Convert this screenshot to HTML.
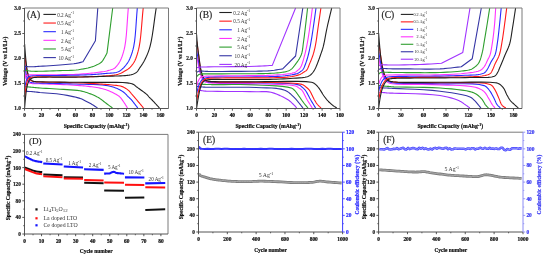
<!DOCTYPE html>
<html><head><meta charset="utf-8"><title>Figure</title>
<style>
html,body{margin:0;padding:0;background:#fff;}
body{width:550px;height:258px;overflow:hidden;}
svg{display:block;filter:blur(0.35px);}
text{font-family:"Liberation Serif","Times New Roman",serif;}
</style></head><body>
<svg width="550" height="258" viewBox="0 0 550 258" font-family="Liberation Serif, serif">
<rect width="550" height="258" fill="#fff"/>
<polyline points="24.60,91.20 25.16,91.23 25.72,91.27 26.28,91.30 26.85,91.33 27.42,91.37 28.00,91.40 28.63,91.43 29.26,91.45 29.89,91.48 30.55,91.51 31.25,91.55 32.00,91.60 33.13,91.71 34.33,91.84 35.60,92.00 36.96,92.16 38.43,92.33 40.00,92.50 42.81,92.74 46.00,92.95 49.45,93.18 53.01,93.44 56.57,93.77 60.00,94.20 63.48,94.74 67.13,95.38 70.76,96.09 74.23,96.84 77.37,97.62 80.00,98.40 81.23,98.85 82.29,99.30 83.25,99.76 84.15,100.23 85.05,100.71 86.00,101.20 87.01,101.71 88.02,102.22 89.03,102.75 90.03,103.29 91.02,103.84 92.00,104.40 92.94,104.97 93.86,105.57 94.77,106.17 95.68,106.78 96.59,107.39 97.50,108.00" fill="none" stroke="#3535a5" stroke-width="1.1" stroke-linejoin="round" />
<polyline points="24.60,86.60 25.16,86.65 25.72,86.70 26.28,86.75 26.85,86.80 27.42,86.85 28.00,86.90 28.63,86.96 29.26,87.02 29.89,87.09 30.55,87.16 31.25,87.23 32.00,87.30 33.13,87.41 34.33,87.52 35.60,87.64 36.96,87.76 38.43,87.88 40.00,88.00 42.81,88.19 46.00,88.38 49.44,88.57 53.00,88.77 56.56,88.98 60.00,89.20 63.44,89.42 67.01,89.62 70.58,89.84 74.02,90.09 77.20,90.40 80.00,90.80 81.56,91.10 82.97,91.44 84.28,91.80 85.52,92.18 86.75,92.58 88.00,93.00 89.22,93.42 90.43,93.87 91.62,94.33 92.79,94.81 93.92,95.30 95.00,95.80 95.90,96.24 96.75,96.68 97.58,97.13 98.39,97.59 99.19,98.08 100.00,98.60 100.84,99.17 101.65,99.77 102.45,100.40 103.27,101.05 104.11,101.72 105.00,102.40 106.16,103.27 107.39,104.19 108.65,105.13 109.94,106.09 111.23,107.05 112.50,108.00" fill="none" stroke="#2e9e2e" stroke-width="1.1" stroke-linejoin="round" />
<polyline points="24.60,70.00 24.73,70.84 24.85,71.68 24.98,72.52 25.11,73.36 25.25,74.18 25.40,75.00 25.55,75.78 25.70,76.57 25.86,77.35 26.04,78.11 26.25,78.83 26.50,79.50 26.74,80.04 27.00,80.56 27.28,81.06 27.59,81.53 27.93,81.94 28.30,82.30 28.67,82.58 29.06,82.80 29.48,82.98 29.93,83.13 30.44,83.27 31.00,83.40 32.15,83.58 33.47,83.68 34.94,83.72 36.54,83.73 38.23,83.75 40.00,83.80 42.88,83.90 46.08,84.01 49.51,84.12 53.04,84.23 56.58,84.36 60.00,84.50 63.41,84.66 66.92,84.82 70.43,85.00 73.84,85.19 77.07,85.39 80.00,85.60 81.87,85.75 83.59,85.90 85.22,86.06 86.80,86.22 88.38,86.40 90.00,86.60 91.68,86.81 93.38,87.02 95.08,87.24 96.76,87.49 98.41,87.78 100.00,88.10 101.40,88.43 102.75,88.78 104.08,89.16 105.39,89.57 106.69,90.02 108.00,90.50 109.38,91.06 110.80,91.67 112.20,92.32 113.56,92.99 114.84,93.65 116.00,94.30 116.77,94.75 117.48,95.17 118.14,95.60 118.77,96.04 119.38,96.54 120.00,97.10 120.72,97.87 121.41,98.72 122.07,99.65 122.73,100.60 123.37,101.56 124.00,102.50 124.61,103.41 125.20,104.32 125.78,105.24 126.35,106.16 126.92,107.08 127.50,108.00" fill="none" stroke="#ff33ff" stroke-width="1.1" stroke-linejoin="round" />
<polyline points="24.60,62.00 24.71,63.00 24.82,63.99 24.93,64.99 25.05,65.98 25.17,66.99 25.30,68.00 25.44,69.08 25.59,70.18 25.74,71.29 25.90,72.39 26.09,73.47 26.30,74.50 26.50,75.40 26.71,76.30 26.93,77.18 27.18,78.01 27.46,78.80 27.80,79.50 28.10,80.01 28.43,80.49 28.79,80.94 29.17,81.34 29.57,81.70 30.00,82.00 30.43,82.23 30.89,82.40 31.36,82.53 31.87,82.63 32.41,82.71 33.00,82.80 33.95,82.91 34.98,82.98 36.09,83.02 37.29,83.04 38.59,83.06 40.00,83.10 42.74,83.18 45.91,83.26 49.36,83.34 52.95,83.43 56.55,83.51 60.00,83.60 63.30,83.69 66.57,83.78 69.84,83.87 73.15,83.96 76.52,84.07 80.00,84.20 84.23,84.32 88.75,84.40 93.36,84.50 97.86,84.67 102.07,84.95 105.80,85.40 108.04,85.80 110.13,86.26 112.08,86.77 113.91,87.33 115.64,87.94 117.30,88.60 118.57,89.17 119.78,89.78 120.93,90.42 122.01,91.09 123.04,91.79 124.00,92.50 124.76,93.13 125.46,93.80 126.11,94.48 126.74,95.17 127.36,95.84 128.00,96.50 128.62,97.09 129.23,97.67 129.84,98.24 130.44,98.81 131.03,99.39 131.60,100.00 132.15,100.64 132.67,101.30 133.18,101.97 133.69,102.65 134.19,103.33 134.70,104.00 135.22,104.67 135.73,105.33 136.25,106.00 136.77,106.67 137.28,107.33 137.80,108.00" fill="none" stroke="#2b2bff" stroke-width="1.1" stroke-linejoin="round" />
<polyline points="24.80,54.00 24.90,54.99 24.99,55.98 25.09,56.97 25.18,57.97 25.29,58.97 25.40,60.00 25.53,61.14 25.67,62.30 25.82,63.48 25.97,64.67 26.13,65.84 26.30,67.00 26.46,68.11 26.62,69.23 26.79,70.34 26.97,71.43 27.17,72.49 27.40,73.50 27.62,74.36 27.85,75.20 28.10,76.02 28.37,76.80 28.67,77.53 29.00,78.20 29.28,78.68 29.58,79.14 29.90,79.56 30.24,79.95 30.60,80.29 31.00,80.60 31.43,80.86 31.88,81.06 32.37,81.23 32.88,81.36 33.42,81.48 34.00,81.60 34.83,81.73 35.71,81.82 36.65,81.88 37.66,81.92 38.77,81.95 40.00,82.00 42.66,82.09 45.80,82.16 49.27,82.22 52.90,82.28 56.53,82.33 60.00,82.40 63.33,82.47 66.67,82.54 70.00,82.61 73.33,82.69 76.67,82.78 80.00,82.90 83.41,83.05 86.92,83.22 90.43,83.41 93.84,83.61 97.06,83.81 100.00,84.00 101.85,84.12 103.55,84.24 105.16,84.35 106.72,84.47 108.32,84.62 110.00,84.80 112.02,85.00 114.14,85.19 116.30,85.41 118.42,85.69 120.41,86.08 122.20,86.60 123.47,87.13 124.67,87.74 125.79,88.41 126.83,89.13 127.80,89.86 128.70,90.60 129.35,91.21 129.94,91.84 130.47,92.48 130.98,93.13 131.48,93.77 132.00,94.40 132.51,94.98 133.03,95.57 133.55,96.15 134.05,96.72 134.54,97.27 135.00,97.80 135.35,98.22 135.68,98.61 136.00,98.99 136.31,99.37 136.64,99.77 137.00,100.20 137.49,100.78 138.01,101.40 138.55,102.04 139.10,102.69 139.66,103.35 140.20,104.00 140.75,104.66 141.30,105.32 141.85,105.99 142.40,106.66 142.95,107.33 143.50,108.00" fill="none" stroke="#ff1a1a" stroke-width="1.1" stroke-linejoin="round" />
<polyline points="24.60,44.00 24.70,45.33 24.79,46.65 24.89,47.97 24.99,49.30 25.09,50.64 25.20,52.00 25.32,53.48 25.44,54.98 25.57,56.50 25.71,58.02 25.85,59.53 26.00,61.00 26.15,62.37 26.29,63.74 26.44,65.09 26.61,66.42 26.79,67.72 27.00,69.00 27.20,70.15 27.42,71.29 27.65,72.42 27.90,73.51 28.18,74.54 28.50,75.50 28.78,76.23 29.08,76.93 29.39,77.59 29.73,78.21 30.10,78.79 30.50,79.30 30.85,79.69 31.22,80.04 31.60,80.35 32.01,80.63 32.48,80.88 33.00,81.10 33.90,81.36 34.91,81.53 36.03,81.63 37.25,81.69 38.58,81.73 40.00,81.80 42.69,81.91 45.75,81.98 49.10,82.02 52.65,82.04 56.31,82.07 60.00,82.10 64.61,82.15 69.43,82.20 74.42,82.25 79.54,82.29 84.75,82.34 90.00,82.40 96.31,82.42 103.21,82.38 110.22,82.35 116.85,82.39 122.64,82.55 127.10,82.90 128.54,83.10 129.79,83.31 130.88,83.54 131.86,83.81 132.75,84.12 133.60,84.50 134.17,84.83 134.67,85.19 135.13,85.58 135.56,85.99 136.01,86.40 136.50,86.80 137.08,87.23 137.66,87.66 138.26,88.09 138.87,88.53 139.52,89.00 140.20,89.50 141.21,90.24 142.35,91.05 143.53,91.90 144.69,92.76 145.77,93.60 146.70,94.40 147.26,94.94 147.75,95.47 148.20,96.00 148.62,96.51 149.05,97.01 149.50,97.50 149.93,97.93 150.35,98.34 150.78,98.73 151.21,99.13 151.65,99.55 152.10,100.00 152.68,100.61 153.29,101.26 153.92,101.94 154.55,102.63 155.18,103.32 155.80,104.00 156.42,104.67 157.03,105.33 157.65,106.00 158.27,106.67 158.88,107.33 159.50,108.00" fill="none" stroke="#222222" stroke-width="1.1" stroke-linejoin="round" />
<polyline points="24.60,66.20 24.99,66.27 25.37,66.34 25.75,66.41 26.14,66.48 26.56,66.55 27.00,66.60 27.65,66.66 28.34,66.71 29.07,66.75 29.84,66.78 30.65,66.80 31.50,66.80 32.72,66.77 34.00,66.71 35.36,66.62 36.80,66.52 38.35,66.41 40.00,66.30 42.87,66.13 46.13,65.93 49.61,65.72 53.19,65.50 56.70,65.25 60.00,65.00 62.85,64.77 65.71,64.53 68.53,64.29 71.22,64.02 73.74,63.73 76.00,63.40 77.34,63.16 78.55,62.90 79.68,62.63 80.78,62.35 81.87,62.07 83.00,61.80 95.40,40.70 97.80,8.00" fill="none" stroke="#3535a5" stroke-width="1.1" stroke-linejoin="round" />
<polyline points="24.60,70.20 24.99,70.27 25.37,70.33 25.75,70.40 26.14,70.46 26.56,70.53 27.00,70.60 27.65,70.70 28.34,70.81 29.07,70.92 29.84,71.03 30.65,71.13 31.50,71.20 32.72,71.27 34.00,71.31 35.36,71.33 36.80,71.33 38.34,71.32 40.00,71.30 42.87,71.24 46.13,71.14 49.61,71.01 53.19,70.87 56.70,70.73 60.00,70.60 62.78,70.52 65.51,70.48 68.19,70.44 70.82,70.36 73.42,70.23 76.00,70.00 78.45,69.69 80.93,69.32 83.38,68.90 85.74,68.42 87.97,67.92 90.00,67.40 91.34,67.01 92.59,66.61 93.77,66.18 94.89,65.74 95.96,65.28 97.00,64.80 97.86,64.38 98.70,63.95 99.50,63.51 100.26,63.04 100.96,62.54 101.60,62.00 102.09,61.48 102.51,60.94 102.89,60.36 103.25,59.77 103.61,59.15 104.00,58.50 104.49,57.67 104.99,56.80 105.49,55.88 106.00,54.95 106.50,54.01 107.00,53.10 112.70,8.00" fill="none" stroke="#2e9e2e" stroke-width="1.1" stroke-linejoin="round" />
<polyline points="24.60,79.00 24.74,78.57 24.87,78.13 24.99,77.68 25.13,77.25 25.30,76.85 25.50,76.50 25.70,76.23 25.92,75.97 26.16,75.74 26.41,75.53 26.69,75.35 27.00,75.20 27.41,75.06 27.84,74.99 28.31,74.95 28.82,74.93 29.38,74.92 30.00,74.90 31.29,74.85 32.77,74.82 34.42,74.81 36.20,74.81 38.07,74.81 40.00,74.80 42.96,74.78 46.24,74.77 49.71,74.76 53.24,74.75 56.72,74.73 60.00,74.70 62.78,74.67 65.51,74.65 68.18,74.62 70.81,74.57 73.42,74.50 76.00,74.40 78.42,74.27 80.83,74.10 83.21,73.92 85.54,73.72 87.82,73.51 90.00,73.30 91.78,73.12 93.50,72.94 95.18,72.75 96.82,72.55 98.42,72.33 100.00,72.10 101.40,71.89 102.77,71.67 104.12,71.45 105.44,71.20 106.74,70.92 108.00,70.60 109.17,70.28 110.34,69.94 111.49,69.57 112.59,69.17 113.60,68.72 114.50,68.20 115.12,67.74 115.66,67.25 116.14,66.73 116.60,66.18 117.04,65.60 117.50,65.00 118.03,64.31 118.54,63.60 119.04,62.86 119.53,62.06 120.02,61.18 120.50,60.20 121.27,58.44 122.04,56.48 122.79,54.32 123.51,51.95 124.19,49.38 124.80,46.60 125.64,41.33 126.30,35.23 126.83,28.56 127.30,21.61 127.77,14.67 128.30,8.00" fill="none" stroke="#ff33ff" stroke-width="1.1" stroke-linejoin="round" />
<polyline points="24.60,90.00 24.74,88.99 24.88,87.97 25.02,86.94 25.16,85.93 25.32,84.95 25.50,84.00 25.66,83.19 25.83,82.39 26.01,81.61 26.20,80.86 26.43,80.15 26.70,79.50 26.94,79.01 27.20,78.53 27.48,78.09 27.79,77.68 28.12,77.32 28.50,77.00 28.91,76.74 29.35,76.53 29.82,76.37 30.33,76.23 30.89,76.12 31.50,76.00 32.62,75.84 33.87,75.74 35.25,75.69 36.74,75.66 38.32,75.64 40.00,75.60 42.87,75.54 46.12,75.50 49.61,75.47 53.19,75.45 56.70,75.43 60.00,75.40 62.78,75.37 65.51,75.35 68.18,75.32 70.81,75.29 73.42,75.25 76.00,75.20 78.41,75.14 80.82,75.07 83.21,74.99 85.54,74.90 87.81,74.81 90.00,74.70 91.78,74.60 93.50,74.49 95.18,74.37 96.81,74.25 98.42,74.12 100.00,74.00 101.39,73.89 102.73,73.78 104.06,73.66 105.37,73.54 106.68,73.42 108.00,73.30 109.37,73.19 110.78,73.11 112.18,73.02 113.55,72.90 114.84,72.74 116.00,72.50 116.77,72.28 117.48,72.04 118.15,71.77 118.79,71.47 119.40,71.15 120.00,70.80 120.55,70.44 121.06,70.05 121.56,69.64 122.04,69.21 122.52,68.76 123.00,68.30 123.52,67.80 124.02,67.28 124.53,66.75 125.03,66.19 125.52,65.61 126.00,65.00 126.54,64.30 127.06,63.59 127.58,62.85 128.09,62.06 128.60,61.18 129.10,60.20 129.91,58.45 130.73,56.49 131.54,54.33 132.32,51.96 133.04,49.38 133.70,46.60 134.58,41.34 135.26,35.23 135.81,28.56 136.28,21.62 136.76,14.67 137.30,8.00" fill="none" stroke="#2b2bff" stroke-width="1.1" stroke-linejoin="round" />
<polyline points="24.60,100.00 24.71,98.66 24.82,97.31 24.93,95.97 25.04,94.63 25.16,93.30 25.30,92.00 25.44,90.79 25.58,89.58 25.74,88.39 25.90,87.22 26.09,86.09 26.30,85.00 26.49,84.09 26.67,83.18 26.87,82.29 27.10,81.45 27.37,80.68 27.70,80.00 27.99,79.53 28.30,79.11 28.63,78.72 29.00,78.37 29.38,78.06 29.80,77.80 30.26,77.58 30.74,77.43 31.25,77.32 31.80,77.24 32.38,77.17 33.00,77.10 33.97,77.01 35.00,76.95 36.10,76.93 37.30,76.92 38.59,76.91 40.00,76.90 42.77,76.89 45.99,76.90 49.50,76.92 53.12,76.95 56.68,76.98 60.00,77.00 62.78,77.01 65.51,77.02 68.18,77.03 70.81,77.03 73.42,77.02 76.00,77.00 78.41,76.97 80.82,76.93 83.21,76.88 85.54,76.82 87.81,76.76 90.00,76.70 91.76,76.64 93.46,76.59 95.11,76.53 96.73,76.46 98.35,76.39 100.00,76.30 101.70,76.20 103.43,76.10 105.16,75.99 106.86,75.87 108.48,75.74 110.00,75.60 111.10,75.49 112.16,75.38 113.18,75.26 114.15,75.13 115.09,74.98 116.00,74.80 116.72,74.64 117.41,74.47 118.07,74.28 118.71,74.08 119.35,73.85 120.00,73.60 120.67,73.31 121.33,72.99 121.99,72.64 122.64,72.28 123.31,71.90 124.00,71.50 124.84,71.03 125.72,70.53 126.61,70.01 127.49,69.47 128.33,68.90 129.10,68.30 129.75,67.72 130.35,67.11 130.93,66.48 131.47,65.84 131.99,65.17 132.50,64.50 132.98,63.85 133.43,63.21 133.86,62.56 134.27,61.86 134.68,61.09 135.10,60.20 135.82,58.48 136.54,56.53 137.25,54.36 137.94,51.97 138.59,49.38 139.20,46.60 140.07,41.33 140.79,35.22 141.42,28.56 141.99,21.61 142.57,14.67 143.20,8.00" fill="none" stroke="#ff1a1a" stroke-width="1.1" stroke-linejoin="round" />
<polyline points="24.60,108.00 24.71,106.67 24.82,105.35 24.94,104.03 25.05,102.70 25.17,101.36 25.30,100.00 25.44,98.52 25.59,96.99 25.75,95.46 25.91,93.93 26.09,92.44 26.30,91.00 26.49,89.76 26.68,88.53 26.89,87.32 27.12,86.16 27.39,85.04 27.70,84.00 27.98,83.18 28.28,82.39 28.59,81.63 28.95,80.92 29.35,80.27 29.80,79.70 30.24,79.27 30.71,78.89 31.22,78.56 31.77,78.28 32.36,78.02 33.00,77.80 33.95,77.56 34.98,77.41 36.09,77.33 37.29,77.28 38.59,77.25 40.00,77.20 42.76,77.12 45.99,77.08 49.50,77.07 53.12,77.08 56.68,77.10 60.00,77.10 62.78,77.10 65.51,77.11 68.18,77.12 70.81,77.12 73.42,77.12 76.00,77.10 78.36,77.07 80.64,77.03 82.90,76.98 85.18,76.92 87.53,76.86 90.00,76.80 93.16,76.72 96.51,76.62 99.96,76.52 103.41,76.42 106.79,76.31 110.00,76.20 112.70,76.11 115.41,76.04 118.06,75.96 120.58,75.86 122.92,75.75 125.00,75.60 126.18,75.50 127.27,75.39 128.28,75.28 129.23,75.15 130.13,74.99 131.00,74.80 131.65,74.62 132.27,74.43 132.86,74.23 133.43,74.00 133.97,73.76 134.50,73.50 134.96,73.26 135.39,73.01 135.81,72.75 136.22,72.47 136.61,72.15 137.00,71.80 137.44,71.33 137.84,70.81 138.24,70.25 138.63,69.64 139.05,68.99 139.50,68.30 140.26,67.18 141.10,65.95 141.99,64.63 142.89,63.22 143.77,61.74 144.60,60.20 145.57,58.25 146.52,56.24 147.44,54.12 148.33,51.84 149.18,49.35 150.00,46.60 151.22,41.34 152.31,35.24 153.30,28.57 154.25,21.62 155.20,14.67 156.20,8.00" fill="none" stroke="#222222" stroke-width="1.1" stroke-linejoin="round" />
<line x1="24.50" y1="8.00" x2="168.50" y2="8.00" stroke="#7a7a7a" stroke-width="1"/>
<line x1="168.50" y1="8.00" x2="168.50" y2="108.50" stroke="#7a7a7a" stroke-width="1"/>
<line x1="24.50" y1="108.50" x2="168.50" y2="108.50" stroke="#555" stroke-width="1"/>
<line x1="24.50" y1="8.00" x2="24.50" y2="108.50" stroke="#555" stroke-width="1"/>
<line x1="24.50" y1="108.50" x2="24.50" y2="110.70" stroke="#444" stroke-width="0.9"/>
<line x1="33.00" y1="108.50" x2="33.00" y2="109.80" stroke="#444" stroke-width="0.8"/>
<text x="24.50" y="116.90" font-size="5.4" text-anchor="middle" font-weight="bold" fill="#111" stroke="#111" stroke-width="0.22">0</text>
<line x1="41.50" y1="108.50" x2="41.50" y2="110.70" stroke="#444" stroke-width="0.9"/>
<line x1="50.00" y1="108.50" x2="50.00" y2="109.80" stroke="#444" stroke-width="0.8"/>
<text x="41.50" y="116.90" font-size="5.4" text-anchor="middle" font-weight="bold" fill="#111" stroke="#111" stroke-width="0.22">20</text>
<line x1="58.50" y1="108.50" x2="58.50" y2="110.70" stroke="#444" stroke-width="0.9"/>
<line x1="67.00" y1="108.50" x2="67.00" y2="109.80" stroke="#444" stroke-width="0.8"/>
<text x="58.50" y="116.90" font-size="5.4" text-anchor="middle" font-weight="bold" fill="#111" stroke="#111" stroke-width="0.22">40</text>
<line x1="75.50" y1="108.50" x2="75.50" y2="110.70" stroke="#444" stroke-width="0.9"/>
<line x1="84.00" y1="108.50" x2="84.00" y2="109.80" stroke="#444" stroke-width="0.8"/>
<text x="75.50" y="116.90" font-size="5.4" text-anchor="middle" font-weight="bold" fill="#111" stroke="#111" stroke-width="0.22">60</text>
<line x1="92.50" y1="108.50" x2="92.50" y2="110.70" stroke="#444" stroke-width="0.9"/>
<line x1="101.00" y1="108.50" x2="101.00" y2="109.80" stroke="#444" stroke-width="0.8"/>
<text x="92.50" y="116.90" font-size="5.4" text-anchor="middle" font-weight="bold" fill="#111" stroke="#111" stroke-width="0.22">80</text>
<line x1="109.50" y1="108.50" x2="109.50" y2="110.70" stroke="#444" stroke-width="0.9"/>
<line x1="118.00" y1="108.50" x2="118.00" y2="109.80" stroke="#444" stroke-width="0.8"/>
<text x="109.50" y="116.90" font-size="5.4" text-anchor="middle" font-weight="bold" fill="#111" stroke="#111" stroke-width="0.22">100</text>
<line x1="126.50" y1="108.50" x2="126.50" y2="110.70" stroke="#444" stroke-width="0.9"/>
<line x1="135.00" y1="108.50" x2="135.00" y2="109.80" stroke="#444" stroke-width="0.8"/>
<text x="126.50" y="116.90" font-size="5.4" text-anchor="middle" font-weight="bold" fill="#111" stroke="#111" stroke-width="0.22">120</text>
<line x1="143.50" y1="108.50" x2="143.50" y2="110.70" stroke="#444" stroke-width="0.9"/>
<line x1="152.00" y1="108.50" x2="152.00" y2="109.80" stroke="#444" stroke-width="0.8"/>
<text x="143.50" y="116.90" font-size="5.4" text-anchor="middle" font-weight="bold" fill="#111" stroke="#111" stroke-width="0.22">140</text>
<line x1="160.50" y1="108.50" x2="160.50" y2="110.70" stroke="#444" stroke-width="0.9"/>
<text x="160.50" y="116.90" font-size="5.4" text-anchor="middle" font-weight="bold" fill="#111" stroke="#111" stroke-width="0.22">160</text>
<line x1="22.30" y1="108.50" x2="24.50" y2="108.50" stroke="#444" stroke-width="0.9"/>
<line x1="23.20" y1="96.00" x2="24.50" y2="96.00" stroke="#444" stroke-width="0.8"/>
<text x="21.00" y="110.40" font-size="5.4" text-anchor="end" font-weight="bold" fill="#222" stroke="#222" stroke-width="0.22">1.0</text>
<line x1="22.30" y1="83.50" x2="24.50" y2="83.50" stroke="#444" stroke-width="0.9"/>
<line x1="23.20" y1="71.00" x2="24.50" y2="71.00" stroke="#444" stroke-width="0.8"/>
<text x="21.00" y="85.40" font-size="5.4" text-anchor="end" font-weight="bold" fill="#222" stroke="#222" stroke-width="0.22">1.5</text>
<line x1="22.30" y1="58.50" x2="24.50" y2="58.50" stroke="#444" stroke-width="0.9"/>
<line x1="23.20" y1="46.00" x2="24.50" y2="46.00" stroke="#444" stroke-width="0.8"/>
<text x="21.00" y="60.40" font-size="5.4" text-anchor="end" font-weight="bold" fill="#222" stroke="#222" stroke-width="0.22">2.0</text>
<line x1="22.30" y1="33.50" x2="24.50" y2="33.50" stroke="#444" stroke-width="0.9"/>
<line x1="23.20" y1="21.00" x2="24.50" y2="21.00" stroke="#444" stroke-width="0.8"/>
<text x="21.00" y="35.40" font-size="5.4" text-anchor="end" font-weight="bold" fill="#222" stroke="#222" stroke-width="0.22">2.5</text>
<line x1="22.30" y1="8.50" x2="24.50" y2="8.50" stroke="#444" stroke-width="0.9"/>
<text x="21.00" y="10.40" font-size="5.4" text-anchor="end" font-weight="bold" fill="#222" stroke="#222" stroke-width="0.22">3.0</text>
<text x="26.90" y="17.60" font-size="9.5" text-anchor="start" font-weight="normal" fill="#1a1a1a" stroke="#1a1a1a" stroke-width="0.15">(A)</text>
<line x1="43.40" y1="14.40" x2="55.90" y2="14.40" stroke="#222222" stroke-width="1.1"/>
<text x="74.00" y="16.60" font-size="5.2" text-anchor="end" fill="#333">0.2 Ag<tspan font-size="3.64" dy="-2.30">-1</tspan></text>
<line x1="43.40" y1="23.04" x2="55.90" y2="23.04" stroke="#ff1a1a" stroke-width="1.1"/>
<text x="74.00" y="25.24" font-size="5.2" text-anchor="end" fill="#333">0.5 Ag<tspan font-size="3.64" dy="-2.30">-1</tspan></text>
<line x1="43.40" y1="31.68" x2="55.90" y2="31.68" stroke="#2b2bff" stroke-width="1.1"/>
<text x="74.00" y="33.88" font-size="5.2" text-anchor="end" fill="#333">1 Ag<tspan font-size="3.64" dy="-2.30">-1</tspan></text>
<line x1="43.40" y1="40.32" x2="55.90" y2="40.32" stroke="#ff33ff" stroke-width="1.1"/>
<text x="74.00" y="42.52" font-size="5.2" text-anchor="end" fill="#333">2 Ag<tspan font-size="3.64" dy="-2.30">-1</tspan></text>
<line x1="43.40" y1="48.96" x2="55.90" y2="48.96" stroke="#2e9e2e" stroke-width="1.1"/>
<text x="74.00" y="51.16" font-size="5.2" text-anchor="end" fill="#333">5 Ag<tspan font-size="3.64" dy="-2.30">-1</tspan></text>
<line x1="43.40" y1="57.60" x2="55.90" y2="57.60" stroke="#3535a5" stroke-width="1.1"/>
<text x="74.00" y="59.80" font-size="5.2" text-anchor="end" fill="#333">10 Ag<tspan font-size="3.64" dy="-2.30">-1</tspan></text>
<text x="96.50" y="128.1" font-size="5.7" text-anchor="middle" font-weight="bold" fill="#111" stroke="#111" stroke-width="0.2">Specific Capacity (mAhg<tspan font-size="4.0" dy="-2">-1</tspan><tspan dy="2">)</tspan></text>
<text transform="translate(7.40,61.2) rotate(-90)" font-size="5.6" text-anchor="middle" font-weight="bold" fill="#111" stroke="#111" stroke-width="0.2">Voltage (V vs Li/Li<tspan font-size="4" dy="-1.8">+</tspan><tspan dy="1.8">)</tspan></text>
<polyline points="196.80,89.80 197.42,89.90 198.04,90.00 198.66,90.10 199.27,90.20 199.89,90.30 200.50,90.40 201.07,90.50 201.62,90.61 202.16,90.72 202.73,90.82 203.33,90.92 204.00,91.00 205.07,91.09 206.18,91.16 207.39,91.20 208.73,91.23 210.26,91.26 212.00,91.30 217.55,91.38 224.90,91.44 233.23,91.48 241.74,91.52 249.60,91.59 256.00,91.70 258.95,91.72 261.57,91.66 263.98,91.62 266.27,91.66 268.58,91.86 271.00,92.30 273.94,93.14 277.04,94.29 280.15,95.63 283.12,97.07 285.79,98.50 288.00,99.80 289.06,100.51 289.98,101.21 290.79,101.90 291.54,102.60 292.26,103.29 293.00,104.00 293.68,104.66 294.32,105.32 294.95,105.99 295.56,106.66 296.18,107.33 296.80,108.00" fill="none" stroke="#a033ff" stroke-width="1.1" stroke-linejoin="round" />
<polyline points="196.80,86.40 197.42,86.47 198.05,86.54 198.67,86.60 199.30,86.67 199.91,86.74 200.50,86.80 201.00,86.85 201.47,86.91 201.92,86.96 202.40,87.01 202.91,87.06 203.50,87.10 204.59,87.16 205.77,87.20 207.06,87.23 208.52,87.25 210.15,87.28 212.00,87.30 217.46,87.31 224.48,87.26 232.44,87.21 240.76,87.19 248.81,87.27 256.00,87.50 261.35,87.69 266.69,87.83 271.85,88.04 276.69,88.42 281.05,89.10 284.80,90.20 286.86,91.19 288.68,92.39 290.30,93.70 291.76,95.08 293.12,96.43 294.40,97.70 295.31,98.60 296.12,99.49 296.87,100.38 297.58,101.25 298.28,102.12 299.00,103.00 299.69,103.84 300.36,104.67 301.02,105.50 301.68,106.34 302.34,107.17 303.00,108.00" fill="none" stroke="#3535a5" stroke-width="1.1" stroke-linejoin="round" />
<polyline points="196.80,83.60 197.41,83.70 198.01,83.81 198.61,83.92 199.22,84.03 199.85,84.12 200.50,84.20 201.28,84.26 202.08,84.31 202.91,84.33 203.76,84.35 204.62,84.37 205.50,84.40 206.47,84.44 207.39,84.47 208.34,84.50 209.37,84.54 210.57,84.57 212.00,84.60 217.13,84.63 223.95,84.60 231.87,84.56 240.25,84.56 248.50,84.66 256.00,84.90 262.53,85.19 269.41,85.51 276.18,85.91 282.38,86.42 287.54,87.10 291.20,88.00 292.05,88.36 292.72,88.72 293.25,89.11 293.73,89.53 294.19,89.99 294.70,90.50 295.36,91.21 296.01,92.00 296.65,92.86 297.27,93.75 297.89,94.64 298.50,95.50 299.10,96.34 299.69,97.18 300.28,98.03 300.86,98.88 301.43,99.70 302.00,100.50 302.51,101.20 303.01,101.88 303.50,102.55 304.00,103.21 304.49,103.86 305.00,104.50 305.49,105.10 305.99,105.69 306.49,106.27 307.00,106.85 307.50,107.42 308.00,108.00" fill="none" stroke="#2e9e2e" stroke-width="1.1" stroke-linejoin="round" />
<polyline points="196.80,57.00 197.03,58.25 197.26,59.50 197.49,60.75 197.72,62.00 197.96,63.25 198.20,64.50 198.45,65.76 198.70,67.04 198.95,68.31 199.21,69.57 199.49,70.80 199.80,72.00 200.09,73.07 200.38,74.13 200.69,75.17 201.02,76.17 201.39,77.12 201.80,78.00 202.18,78.71 202.59,79.39 203.01,80.04 203.47,80.63 203.97,81.16 204.50,81.60 205.01,81.91 205.54,82.14 206.11,82.32 206.70,82.45 207.33,82.58 208.00,82.70 208.95,82.85 209.93,82.96 210.98,83.03 212.14,83.09 213.47,83.14 215.00,83.20 219.87,83.33 226.17,83.40 233.42,83.45 241.13,83.51 248.82,83.61 256.00,83.80 263.13,84.00 270.83,84.19 278.50,84.42 285.57,84.75 291.43,85.26 295.50,86.00 296.34,86.29 297.01,86.60 297.55,86.93 298.02,87.27 298.49,87.63 299.00,88.00 299.54,88.36 300.06,88.71 300.58,89.07 301.08,89.47 301.59,89.94 302.10,90.50 302.92,91.65 303.72,93.06 304.53,94.64 305.34,96.30 306.16,97.95 307.00,99.50 307.86,100.94 308.73,102.36 309.62,103.77 310.52,105.18 311.41,106.59 312.30,108.00" fill="none" stroke="#ff33ff" stroke-width="1.1" stroke-linejoin="round" />
<polyline points="196.80,51.00 197.05,52.50 197.29,53.99 197.54,55.49 197.79,56.98 198.04,58.49 198.30,60.00 198.57,61.59 198.83,63.21 199.10,64.84 199.38,66.45 199.68,68.01 200.00,69.50 200.29,70.73 200.58,71.94 200.89,73.11 201.23,74.24 201.59,75.31 202.00,76.30 202.36,77.06 202.72,77.78 203.11,78.47 203.54,79.11 203.99,79.69 204.50,80.20 205.00,80.60 205.53,80.94 206.09,81.23 206.68,81.48 207.32,81.70 208.00,81.90 208.95,82.11 209.92,82.25 210.97,82.34 212.14,82.39 213.46,82.44 215.00,82.50 219.85,82.62 226.11,82.66 233.32,82.64 241.01,82.63 248.73,82.67 256.00,82.80 263.61,82.94 271.91,83.04 280.23,83.19 287.91,83.48 294.29,84.02 298.70,84.90 299.63,85.27 300.37,85.68 300.96,86.11 301.47,86.56 301.96,87.02 302.50,87.50 303.03,87.95 303.54,88.38 304.03,88.83 304.51,89.32 305.00,89.87 305.50,90.50 306.31,91.70 307.13,93.12 307.96,94.69 308.80,96.33 309.65,97.96 310.50,99.50 311.34,100.94 312.19,102.36 313.04,103.77 313.89,105.18 314.75,106.59 315.60,108.00" fill="none" stroke="#2b2bff" stroke-width="1.1" stroke-linejoin="round" />
<polyline points="196.90,41.50 197.01,42.48 197.12,43.44 197.23,44.40 197.34,45.38 197.47,46.40 197.60,47.50 197.80,49.07 198.02,50.76 198.26,52.52 198.51,54.34 198.76,56.18 199.00,58.00 199.25,60.00 199.48,62.08 199.72,64.18 199.97,66.25 200.26,68.21 200.60,70.00 200.88,71.25 201.17,72.45 201.48,73.59 201.82,74.66 202.19,75.67 202.60,76.60 202.94,77.28 203.30,77.91 203.67,78.51 204.08,79.06 204.52,79.56 205.00,80.00 205.50,80.36 206.03,80.66 206.60,80.92 207.20,81.14 207.83,81.33 208.50,81.50 209.39,81.68 210.30,81.80 211.26,81.87 212.34,81.91 213.57,81.95 215.00,82.00 219.76,82.11 225.97,82.14 233.15,82.13 240.86,82.13 248.63,82.17 256.00,82.30 264.08,82.44 272.97,82.53 281.93,82.68 290.23,82.97 297.13,83.51 301.90,84.40 302.90,84.77 303.68,85.17 304.32,85.60 304.88,86.05 305.42,86.52 306.00,87.00 306.61,87.48 307.21,87.97 307.80,88.49 308.36,89.02 308.90,89.59 309.40,90.20 309.90,90.92 310.35,91.69 310.78,92.50 311.18,93.34 311.59,94.18 312.00,95.00 312.42,95.83 312.82,96.67 313.22,97.52 313.63,98.36 314.05,99.19 314.50,100.00 314.96,100.78 315.44,101.56 315.92,102.33 316.43,103.08 316.95,103.80 317.50,104.50 318.05,105.13 318.62,105.72 319.21,106.30 319.81,106.86 320.41,107.43 321.00,108.00" fill="none" stroke="#ff1a1a" stroke-width="1.1" stroke-linejoin="round" />
<polyline points="196.60,34.50 196.72,36.18 196.84,37.82 196.95,39.47 197.08,41.14 197.22,42.88 197.40,44.70 197.67,47.14 197.98,49.76 198.33,52.47 198.69,55.18 199.05,57.79 199.40,60.20 199.66,61.99 199.90,63.71 200.14,65.37 200.40,66.98 200.68,68.52 201.00,70.00 201.29,71.20 201.58,72.37 201.90,73.50 202.24,74.57 202.60,75.58 203.00,76.50 203.32,77.16 203.64,77.78 203.98,78.36 204.35,78.90 204.75,79.38 205.20,79.80 205.67,80.13 206.17,80.39 206.70,80.61 207.26,80.79 207.86,80.95 208.50,81.10 209.38,81.27 210.29,81.38 211.25,81.46 212.33,81.51 213.56,81.55 215.00,81.60 219.72,81.71 225.82,81.74 232.91,81.73 240.57,81.70 248.40,81.68 256.00,81.70 265.54,81.66 276.36,81.52 287.40,81.39 297.64,81.40 306.02,81.66 311.50,82.30 312.36,82.53 313.04,82.78 313.58,83.04 314.05,83.32 314.51,83.64 315.00,84.00 315.55,84.43 316.07,84.90 316.58,85.41 317.07,85.94 317.55,86.47 318.00,87.00 318.40,87.48 318.76,87.94 319.11,88.42 319.45,88.91 319.81,89.43 320.20,90.00 320.77,90.88 321.38,91.86 322.00,92.90 322.65,93.96 323.32,95.00 324.00,96.00 324.70,96.96 325.43,97.92 326.18,98.86 326.94,99.77 327.72,100.66 328.50,101.50 329.23,102.24 329.98,102.95 330.74,103.64 331.50,104.29 332.25,104.91 333.00,105.50 333.64,105.97 334.27,106.40 334.91,106.81 335.54,107.20 336.17,107.59 336.80,108.00" fill="none" stroke="#222222" stroke-width="1.1" stroke-linejoin="round" />
<polyline points="196.80,67.80 197.15,67.70 197.48,67.59 197.80,67.48 198.15,67.38 198.54,67.28 199.00,67.20 200.06,67.08 201.28,67.01 202.67,66.97 204.24,66.95 206.02,66.93 208.00,66.90 214.09,66.81 222.12,66.73 231.21,66.67 240.47,66.58 249.03,66.47 256.00,66.30 259.22,66.17 262.07,66.03 264.69,65.88 267.19,65.72 269.68,65.55 272.30,65.40 295.60,8.00" fill="none" stroke="#a033ff" stroke-width="1.1" stroke-linejoin="round" />
<polyline points="196.80,72.20 197.15,72.02 197.47,71.84 197.79,71.65 198.14,71.48 198.54,71.32 199.00,71.20 200.06,71.07 201.27,71.07 202.66,71.14 204.24,71.24 206.02,71.34 208.00,71.40 214.13,71.43 222.25,71.44 231.42,71.42 240.72,71.37 249.22,71.30 256.00,71.20 258.83,71.15 261.31,71.11 263.57,71.06 265.70,70.98 267.81,70.87 270.00,70.70 272.16,70.47 274.28,70.20 276.39,69.88 278.49,69.55 280.59,69.21 282.70,68.90 295.60,56.00 302.80,8.00" fill="none" stroke="#3535a5" stroke-width="1.1" stroke-linejoin="round" />
<polyline points="196.80,76.50 197.08,76.21 197.34,75.90 197.61,75.59 197.88,75.30 198.18,75.03 198.50,74.80 198.86,74.60 199.23,74.44 199.62,74.30 200.04,74.19 200.50,74.09 201.00,74.00 201.88,73.90 202.83,73.86 203.88,73.86 205.07,73.88 206.43,73.90 208.00,73.90 213.85,73.87 221.88,73.84 231.11,73.82 240.53,73.80 249.16,73.76 256.00,73.70 258.84,73.67 261.35,73.64 263.63,73.61 265.77,73.56 267.86,73.50 270.00,73.40 271.94,73.30 273.86,73.18 275.74,73.05 277.57,72.90 279.33,72.72 281.00,72.50 282.29,72.31 283.56,72.10 284.77,71.88 285.93,71.62 287.01,71.34 288.00,71.00 288.68,70.72 289.31,70.43 289.89,70.11 290.45,69.77 290.98,69.40 291.50,69.00 291.99,68.58 292.43,68.16 292.85,67.70 293.27,67.20 293.71,66.64 294.20,66.00 295.26,64.61 296.50,62.94 297.82,61.07 299.11,59.08 300.27,57.03 301.20,55.00 301.86,52.96 302.34,50.86 302.68,48.71 302.94,46.51 303.20,44.27 303.50,42.00 303.87,39.44 304.21,36.83 304.54,34.17 304.86,31.47 305.17,28.74 305.50,26.00 305.85,23.06 306.20,20.08 306.55,17.07 306.90,14.04 307.25,11.01 307.60,8.00" fill="none" stroke="#2e9e2e" stroke-width="1.1" stroke-linejoin="round" />
<polyline points="196.80,86.00 197.04,85.15 197.27,84.28 197.49,83.42 197.73,82.57 198.00,81.76 198.30,81.00 198.58,80.39 198.88,79.79 199.19,79.22 199.53,78.69 199.90,78.22 200.30,77.80 200.69,77.49 201.10,77.23 201.53,77.00 201.99,76.82 202.48,76.65 203.00,76.50 203.68,76.35 204.35,76.26 205.07,76.20 205.89,76.17 206.85,76.14 208.00,76.10 213.49,75.95 221.42,75.85 230.72,75.78 240.30,75.73 249.09,75.67 256.00,75.60 258.81,75.56 261.27,75.53 263.49,75.50 265.61,75.46 267.74,75.39 270.00,75.30 272.51,75.18 275.10,75.04 277.69,74.87 280.25,74.68 282.70,74.46 285.00,74.20 286.76,73.98 288.50,73.76 290.18,73.51 291.75,73.23 293.17,72.90 294.40,72.50 295.04,72.22 295.60,71.92 296.10,71.59 296.57,71.25 297.02,70.89 297.50,70.50 298.02,70.09 298.54,69.68 299.05,69.24 299.55,68.75 300.03,68.18 300.50,67.50 301.30,65.95 302.06,64.03 302.77,61.85 303.46,59.54 304.10,57.22 304.70,55.00 305.25,52.88 305.76,50.75 306.22,48.62 306.66,46.46 307.08,44.25 307.50,42.00 307.96,39.44 308.39,36.83 308.80,34.17 309.21,31.47 309.60,28.74 310.00,26.00 310.41,23.06 310.82,20.08 311.22,17.07 311.61,14.04 312.00,11.01 312.40,8.00" fill="none" stroke="#ff33ff" stroke-width="1.1" stroke-linejoin="round" />
<polyline points="196.80,93.00 197.06,91.90 197.30,90.78 197.55,89.67 197.81,88.57 198.09,87.51 198.40,86.50 198.69,85.68 199.00,84.88 199.32,84.11 199.66,83.38 200.02,82.67 200.40,82.00 200.75,81.43 201.12,80.87 201.50,80.33 201.90,79.83 202.33,79.39 202.80,79.00 203.28,78.70 203.78,78.46 204.31,78.26 204.87,78.09 205.43,77.94 206.00,77.80 206.58,77.67 207.13,77.56 207.69,77.49 208.32,77.42 209.07,77.36 210.00,77.30 215.07,77.12 222.60,77.03 231.53,76.99 240.78,76.97 249.29,76.95 256.00,76.90 258.80,76.86 261.25,76.82 263.48,76.78 265.60,76.74 267.73,76.68 270.00,76.60 272.49,76.52 275.01,76.44 277.56,76.35 280.09,76.22 282.58,76.05 285.00,75.80 287.28,75.51 289.63,75.17 291.95,74.79 294.13,74.37 296.05,73.90 297.60,73.40 298.23,73.13 298.76,72.84 299.22,72.55 299.65,72.24 300.07,71.92 300.50,71.60 300.94,71.29 301.38,70.99 301.81,70.67 302.22,70.33 302.62,69.95 303.00,69.50 303.48,68.78 303.92,67.95 304.33,67.04 304.72,66.06 305.11,65.04 305.50,64.00 305.99,62.66 306.48,61.24 306.95,59.76 307.42,58.22 307.87,56.63 308.30,55.00 308.79,53.00 309.27,50.91 309.72,48.75 310.16,46.53 310.58,44.28 311.00,42.00 311.45,39.44 311.88,36.83 312.29,34.17 312.70,31.47 313.10,28.74 313.50,26.00 313.93,23.06 314.34,20.08 314.76,17.07 315.17,14.04 315.59,11.01 316.00,8.00" fill="none" stroke="#2b2bff" stroke-width="1.1" stroke-linejoin="round" />
<polyline points="196.80,100.00 197.08,98.57 197.34,97.12 197.61,95.67 197.89,94.24 198.18,92.85 198.50,91.50 198.80,90.34 199.10,89.20 199.42,88.08 199.76,87.00 200.12,85.97 200.50,85.00 200.82,84.24 201.16,83.51 201.50,82.81 201.87,82.15 202.26,81.55 202.70,81.00 203.11,80.57 203.55,80.18 204.01,79.83 204.49,79.52 204.99,79.24 205.50,79.00 206.01,78.80 206.51,78.66 207.02,78.55 207.59,78.46 208.23,78.38 209.00,78.30 211.45,78.12 214.60,78.02 218.25,77.96 222.18,77.94 226.17,77.92 230.00,77.90 234.27,77.87 238.76,77.87 243.33,77.88 247.82,77.89 252.10,77.90 256.00,77.90 258.55,77.90 260.89,77.90 263.11,77.90 265.31,77.89 267.57,77.86 270.00,77.80 273.21,77.72 276.66,77.64 280.22,77.53 283.72,77.37 287.03,77.14 290.00,76.80 291.93,76.50 293.78,76.16 295.53,75.77 297.16,75.36 298.66,74.90 300.00,74.40 300.80,74.04 301.53,73.64 302.19,73.23 302.81,72.82 303.40,72.40 304.00,72.00 304.51,71.69 305.00,71.40 305.48,71.12 305.94,70.81 306.38,70.45 306.80,70.00 307.33,69.23 307.79,68.33 308.22,67.32 308.64,66.23 309.06,65.12 309.50,64.00 310.08,62.62 310.69,61.17 311.30,59.66 311.90,58.12 312.48,56.56 313.00,55.00 313.49,53.41 313.94,51.82 314.35,50.22 314.75,48.56 315.12,46.83 315.50,45.00 315.96,42.45 316.39,39.73 316.79,36.87 317.18,33.94 317.58,30.97 318.00,28.00 318.47,24.76 318.95,21.45 319.44,18.10 319.93,14.73 320.41,11.35 320.90,8.00" fill="none" stroke="#ff1a1a" stroke-width="1.1" stroke-linejoin="round" />
<polyline points="196.60,108.00 196.91,106.07 197.22,104.11 197.53,102.16 197.84,100.23 198.16,98.33 198.50,96.50 198.81,94.90 199.11,93.31 199.42,91.75 199.75,90.25 200.11,88.82 200.50,87.50 200.82,86.54 201.14,85.62 201.48,84.74 201.84,83.92 202.25,83.17 202.70,82.50 203.11,82.02 203.54,81.59 204.00,81.20 204.48,80.86 204.98,80.56 205.50,80.30 206.01,80.09 206.50,79.94 207.02,79.83 207.58,79.75 208.23,79.68 209.00,79.60 211.45,79.45 214.60,79.40 218.25,79.40 222.18,79.44 226.17,79.48 230.00,79.50 234.27,79.50 238.76,79.50 243.33,79.50 247.82,79.51 252.10,79.51 256.00,79.50 258.55,79.50 260.89,79.49 263.11,79.49 265.31,79.48 267.57,79.45 270.00,79.40 273.15,79.31 276.46,79.20 279.87,79.07 283.32,78.91 286.72,78.72 290.00,78.50 293.09,78.29 296.31,78.10 299.49,77.87 302.47,77.59 305.09,77.21 307.20,76.70 308.03,76.40 308.73,76.09 309.35,75.76 309.90,75.39 310.44,74.97 311.00,74.50 311.64,73.89 312.25,73.22 312.84,72.49 313.41,71.71 313.96,70.88 314.50,70.00 315.15,68.82 315.77,67.52 316.36,66.14 316.93,64.73 317.47,63.34 318.00,62.00 318.46,60.82 318.88,59.67 319.29,58.52 319.69,57.38 320.09,56.21 320.50,55.00 320.97,53.66 321.44,52.33 321.91,50.97 322.38,49.55 322.84,48.04 323.30,46.40 323.93,43.75 324.53,40.82 325.13,37.69 325.72,34.45 326.34,31.19 327.00,28.00 327.73,24.71 328.50,21.39 329.30,18.05 330.10,14.70 330.91,11.34 331.70,8.00" fill="none" stroke="#222222" stroke-width="1.1" stroke-linejoin="round" />
<line x1="196.50" y1="8.00" x2="340.00" y2="8.00" stroke="#7a7a7a" stroke-width="1"/>
<line x1="340.00" y1="8.00" x2="340.00" y2="108.50" stroke="#7a7a7a" stroke-width="1"/>
<line x1="196.50" y1="108.50" x2="340.00" y2="108.50" stroke="#555" stroke-width="1"/>
<line x1="196.50" y1="8.00" x2="196.50" y2="108.50" stroke="#555" stroke-width="1"/>
<line x1="196.50" y1="108.50" x2="196.50" y2="110.70" stroke="#444" stroke-width="0.9"/>
<line x1="205.47" y1="108.50" x2="205.47" y2="109.80" stroke="#444" stroke-width="0.8"/>
<text x="196.50" y="116.90" font-size="5.4" text-anchor="middle" font-weight="bold" fill="#111" stroke="#111" stroke-width="0.22">0</text>
<line x1="214.44" y1="108.50" x2="214.44" y2="110.70" stroke="#444" stroke-width="0.9"/>
<line x1="223.41" y1="108.50" x2="223.41" y2="109.80" stroke="#444" stroke-width="0.8"/>
<text x="214.44" y="116.90" font-size="5.4" text-anchor="middle" font-weight="bold" fill="#111" stroke="#111" stroke-width="0.22">20</text>
<line x1="232.38" y1="108.50" x2="232.38" y2="110.70" stroke="#444" stroke-width="0.9"/>
<line x1="241.35" y1="108.50" x2="241.35" y2="109.80" stroke="#444" stroke-width="0.8"/>
<text x="232.38" y="116.90" font-size="5.4" text-anchor="middle" font-weight="bold" fill="#111" stroke="#111" stroke-width="0.22">40</text>
<line x1="250.32" y1="108.50" x2="250.32" y2="110.70" stroke="#444" stroke-width="0.9"/>
<line x1="259.29" y1="108.50" x2="259.29" y2="109.80" stroke="#444" stroke-width="0.8"/>
<text x="250.32" y="116.90" font-size="5.4" text-anchor="middle" font-weight="bold" fill="#111" stroke="#111" stroke-width="0.22">60</text>
<line x1="268.26" y1="108.50" x2="268.26" y2="110.70" stroke="#444" stroke-width="0.9"/>
<line x1="277.23" y1="108.50" x2="277.23" y2="109.80" stroke="#444" stroke-width="0.8"/>
<text x="268.26" y="116.90" font-size="5.4" text-anchor="middle" font-weight="bold" fill="#111" stroke="#111" stroke-width="0.22">80</text>
<line x1="286.20" y1="108.50" x2="286.20" y2="110.70" stroke="#444" stroke-width="0.9"/>
<line x1="295.17" y1="108.50" x2="295.17" y2="109.80" stroke="#444" stroke-width="0.8"/>
<text x="286.20" y="116.90" font-size="5.4" text-anchor="middle" font-weight="bold" fill="#111" stroke="#111" stroke-width="0.22">100</text>
<line x1="304.14" y1="108.50" x2="304.14" y2="110.70" stroke="#444" stroke-width="0.9"/>
<line x1="313.11" y1="108.50" x2="313.11" y2="109.80" stroke="#444" stroke-width="0.8"/>
<text x="304.14" y="116.90" font-size="5.4" text-anchor="middle" font-weight="bold" fill="#111" stroke="#111" stroke-width="0.22">120</text>
<line x1="322.08" y1="108.50" x2="322.08" y2="110.70" stroke="#444" stroke-width="0.9"/>
<line x1="331.05" y1="108.50" x2="331.05" y2="109.80" stroke="#444" stroke-width="0.8"/>
<text x="322.08" y="116.90" font-size="5.4" text-anchor="middle" font-weight="bold" fill="#111" stroke="#111" stroke-width="0.22">140</text>
<line x1="340.02" y1="108.50" x2="340.02" y2="110.70" stroke="#444" stroke-width="0.9"/>
<text x="340.02" y="116.90" font-size="5.4" text-anchor="middle" font-weight="bold" fill="#111" stroke="#111" stroke-width="0.22">160</text>
<line x1="194.30" y1="108.50" x2="196.50" y2="108.50" stroke="#444" stroke-width="0.9"/>
<line x1="195.20" y1="96.00" x2="196.50" y2="96.00" stroke="#444" stroke-width="0.8"/>
<text x="193.00" y="110.40" font-size="5.4" text-anchor="end" font-weight="bold" fill="#222" stroke="#222" stroke-width="0.22">1.0</text>
<line x1="194.30" y1="83.50" x2="196.50" y2="83.50" stroke="#444" stroke-width="0.9"/>
<line x1="195.20" y1="71.00" x2="196.50" y2="71.00" stroke="#444" stroke-width="0.8"/>
<text x="193.00" y="85.40" font-size="5.4" text-anchor="end" font-weight="bold" fill="#222" stroke="#222" stroke-width="0.22">1.5</text>
<line x1="194.30" y1="58.50" x2="196.50" y2="58.50" stroke="#444" stroke-width="0.9"/>
<line x1="195.20" y1="46.00" x2="196.50" y2="46.00" stroke="#444" stroke-width="0.8"/>
<text x="193.00" y="60.40" font-size="5.4" text-anchor="end" font-weight="bold" fill="#222" stroke="#222" stroke-width="0.22">2.0</text>
<line x1="194.30" y1="33.50" x2="196.50" y2="33.50" stroke="#444" stroke-width="0.9"/>
<line x1="195.20" y1="21.00" x2="196.50" y2="21.00" stroke="#444" stroke-width="0.8"/>
<text x="193.00" y="35.40" font-size="5.4" text-anchor="end" font-weight="bold" fill="#222" stroke="#222" stroke-width="0.22">2.5</text>
<line x1="194.30" y1="8.50" x2="196.50" y2="8.50" stroke="#444" stroke-width="0.9"/>
<text x="193.00" y="10.40" font-size="5.4" text-anchor="end" font-weight="bold" fill="#222" stroke="#222" stroke-width="0.22">3.0</text>
<text x="199.60" y="17.60" font-size="9.5" text-anchor="start" font-weight="normal" fill="#1a1a1a" stroke="#1a1a1a" stroke-width="0.15">(B)</text>
<line x1="219.30" y1="12.50" x2="231.80" y2="12.50" stroke="#222222" stroke-width="1.1"/>
<text x="250.20" y="14.70" font-size="5.2" text-anchor="end" fill="#333">0.2 Ag<tspan font-size="3.64" dy="-2.30">-1</tspan></text>
<line x1="219.30" y1="21.15" x2="231.80" y2="21.15" stroke="#ff1a1a" stroke-width="1.1"/>
<text x="250.20" y="23.35" font-size="5.2" text-anchor="end" fill="#333">0.5 Ag<tspan font-size="3.64" dy="-2.30">-1</tspan></text>
<line x1="219.30" y1="29.80" x2="231.80" y2="29.80" stroke="#2b2bff" stroke-width="1.1"/>
<text x="250.20" y="32.00" font-size="5.2" text-anchor="end" fill="#333">1 Ag<tspan font-size="3.64" dy="-2.30">-1</tspan></text>
<line x1="219.30" y1="38.45" x2="231.80" y2="38.45" stroke="#ff33ff" stroke-width="1.1"/>
<text x="250.20" y="40.65" font-size="5.2" text-anchor="end" fill="#333">2 Ag<tspan font-size="3.64" dy="-2.30">-1</tspan></text>
<line x1="219.30" y1="47.10" x2="231.80" y2="47.10" stroke="#2e9e2e" stroke-width="1.1"/>
<text x="250.20" y="49.30" font-size="5.2" text-anchor="end" fill="#333">5 Ag<tspan font-size="3.64" dy="-2.30">-1</tspan></text>
<line x1="219.30" y1="55.75" x2="231.80" y2="55.75" stroke="#3535a5" stroke-width="1.1"/>
<text x="250.20" y="57.95" font-size="5.2" text-anchor="end" fill="#333">10 Ag<tspan font-size="3.64" dy="-2.30">-1</tspan></text>
<line x1="219.30" y1="64.40" x2="231.80" y2="64.40" stroke="#a033ff" stroke-width="1.1"/>
<text x="250.20" y="66.60" font-size="5.2" text-anchor="end" fill="#333">20 Ag<tspan font-size="3.64" dy="-2.30">-1</tspan></text>
<text x="268.25" y="128.1" font-size="5.7" text-anchor="middle" font-weight="bold" fill="#111" stroke="#111" stroke-width="0.2">Specific Capacity (mAhg<tspan font-size="4.0" dy="-2">-1</tspan><tspan dy="2">)</tspan></text>
<text transform="translate(181.60,61.2) rotate(-90)" font-size="5.6" text-anchor="middle" font-weight="bold" fill="#111" stroke="#111" stroke-width="0.2">Voltage (V vs Li/Li<tspan font-size="4" dy="-1.8">+</tspan><tspan dy="1.8">)</tspan></text>
<polyline points="378.80,92.20 379.50,92.25 380.19,92.29 380.88,92.34 381.57,92.39 382.28,92.44 383.00,92.50 383.80,92.58 384.62,92.66 385.44,92.76 386.28,92.85 387.13,92.93 388.00,93.00 388.90,93.05 389.75,93.08 390.61,93.10 391.56,93.12 392.67,93.15 394.00,93.20 399.40,93.35 406.89,93.52 415.57,93.76 424.57,94.12 433.01,94.68 440.00,95.50 443.84,96.19 447.48,97.00 450.88,97.88 454.00,98.83 456.78,99.81 459.20,100.80 460.41,101.39 461.46,102.00 462.39,102.62 463.26,103.25 464.11,103.88 465.00,104.50 465.85,105.08 466.67,105.66 467.48,106.25 468.29,106.83 469.09,107.42 469.90,108.00" fill="none" stroke="#a033ff" stroke-width="1.1" stroke-linejoin="round" />
<polyline points="378.80,87.60 379.50,87.65 380.19,87.70 380.88,87.76 381.57,87.81 382.28,87.86 383.00,87.90 383.80,87.94 384.62,87.97 385.44,88.00 386.28,88.03 387.14,88.06 388.00,88.10 388.90,88.14 389.75,88.18 390.61,88.22 391.56,88.27 392.67,88.33 394.00,88.40 399.28,88.64 406.51,88.94 414.93,89.32 423.82,89.81 432.42,90.42 440.00,91.20 445.71,91.95 451.53,92.79 457.16,93.72 462.31,94.74 466.69,95.83 470.00,97.00 471.01,97.51 471.82,98.03 472.50,98.56 473.09,99.12 473.68,99.69 474.30,100.30 474.98,100.97 475.64,101.68 476.28,102.42 476.90,103.17 477.51,103.90 478.10,104.60 478.60,105.19 479.07,105.76 479.53,106.32 479.98,106.88 480.44,107.44 480.90,108.00" fill="none" stroke="#3535a5" stroke-width="1.1" stroke-linejoin="round" />
<polyline points="378.80,85.60 379.49,85.67 380.18,85.74 380.86,85.80 381.56,85.87 382.27,85.94 383.00,86.00 383.87,86.07 384.78,86.13 385.70,86.20 386.64,86.26 387.57,86.33 388.50,86.40 389.35,86.48 390.13,86.56 390.91,86.65 391.77,86.73 392.77,86.82 394.00,86.90 399.19,87.07 406.39,87.17 414.82,87.25 423.74,87.38 432.39,87.61 440.00,88.00 445.64,88.43 451.31,88.92 456.80,89.48 461.89,90.11 466.37,90.82 470.00,91.60 471.40,91.99 472.60,92.38 473.65,92.78 474.61,93.22 475.55,93.72 476.50,94.30 477.49,94.98 478.45,95.73 479.37,96.54 480.26,97.40 481.10,98.29 481.90,99.20 482.62,100.16 483.28,101.21 483.90,102.29 484.49,103.35 485.09,104.34 485.70,105.20 486.17,105.75 486.64,106.24 487.10,106.69 487.57,107.12 488.03,107.55 488.50,108.00" fill="none" stroke="#2e9e2e" stroke-width="1.1" stroke-linejoin="round" />
<polyline points="378.80,58.00 379.04,59.33 379.28,60.67 379.52,62.00 379.76,63.34 380.02,64.67 380.30,66.00 380.59,67.36 380.89,68.73 381.21,70.11 381.54,71.46 381.90,72.77 382.30,74.00 382.66,75.01 383.03,76.00 383.42,76.96 383.84,77.87 384.30,78.72 384.80,79.50 385.27,80.11 385.76,80.68 386.28,81.21 386.83,81.69 387.40,82.12 388.00,82.50 388.56,82.80 389.10,83.04 389.66,83.23 390.29,83.39 391.06,83.54 392.00,83.70 397.01,84.14 404.33,84.36 413.13,84.47 422.57,84.54 431.81,84.65 440.00,84.90 446.50,85.14 453.11,85.32 459.58,85.54 465.63,85.89 470.99,86.44 475.40,87.30 477.29,87.86 478.95,88.46 480.42,89.13 481.75,89.86 482.96,90.68 484.10,91.60 485.03,92.54 485.83,93.58 486.54,94.69 487.19,95.83 487.83,96.98 488.50,98.10 489.17,99.20 489.81,100.34 490.45,101.49 491.07,102.60 491.69,103.65 492.30,104.60 492.76,105.24 493.21,105.83 493.66,106.38 494.11,106.92 494.55,107.45 495.00,108.00" fill="none" stroke="#ff33ff" stroke-width="1.1" stroke-linejoin="round" />
<polyline points="378.80,52.00 379.04,53.50 379.28,54.99 379.52,56.49 379.77,57.98 380.02,59.49 380.30,61.00 380.60,62.59 380.90,64.21 381.21,65.84 381.55,67.44 381.91,69.01 382.30,70.50 382.66,71.77 383.02,73.02 383.41,74.24 383.82,75.41 384.28,76.50 384.80,77.50 385.26,78.25 385.75,78.95 386.26,79.60 386.81,80.20 387.39,80.74 388.00,81.20 388.56,81.55 389.09,81.83 389.64,82.05 390.28,82.24 391.05,82.42 392.00,82.60 396.94,83.11 404.13,83.38 412.80,83.50 422.18,83.55 431.50,83.62 440.00,83.80 447.97,83.89 456.46,83.81 464.91,83.75 472.72,83.90 479.31,84.45 484.10,85.60 485.43,86.25 486.49,86.98 487.34,87.78 488.07,88.63 488.76,89.54 489.50,90.50 490.34,91.64 491.12,92.88 491.86,94.18 492.56,95.51 493.24,96.83 493.90,98.10 494.47,99.23 494.99,100.39 495.49,101.53 495.99,102.64 496.52,103.67 497.10,104.60 497.61,105.26 498.15,105.86 498.71,106.40 499.28,106.93 499.84,107.45 500.40,108.00" fill="none" stroke="#2b2bff" stroke-width="1.1" stroke-linejoin="round" />
<polyline points="378.90,43.00 379.05,44.15 379.19,45.29 379.33,46.42 379.48,47.58 379.63,48.76 379.80,50.00 380.02,51.56 380.25,53.20 380.50,54.89 380.75,56.60 381.02,58.31 381.30,60.00 381.58,61.70 381.87,63.42 382.16,65.15 382.48,66.84 382.82,68.47 383.20,70.00 383.53,71.20 383.87,72.36 384.22,73.48 384.61,74.55 385.03,75.56 385.50,76.50 385.93,77.25 386.37,77.96 386.84,78.63 387.35,79.25 387.90,79.81 388.50,80.30 389.10,80.70 389.70,81.02 390.34,81.28 391.07,81.50 391.94,81.70 393.00,81.90 397.93,82.39 404.92,82.61 413.29,82.64 422.38,82.60 431.50,82.59 440.00,82.70 448.91,82.76 458.66,82.64 468.45,82.54 477.49,82.68 484.97,83.27 490.10,84.50 491.22,85.09 492.07,85.73 492.73,86.43 493.28,87.18 493.81,88.01 494.40,88.90 495.22,90.22 495.99,91.71 496.73,93.32 497.44,94.97 498.13,96.59 498.80,98.10 499.35,99.38 499.84,100.68 500.32,101.95 500.82,103.16 501.36,104.25 502.00,105.20 502.57,105.80 503.18,106.31 503.83,106.75 504.49,107.16 505.15,107.56 505.80,108.00" fill="none" stroke="#ff1a1a" stroke-width="1.1" stroke-linejoin="round" />
<polyline points="378.60,33.00 378.75,34.83 378.90,36.67 379.04,38.50 379.19,40.33 379.34,42.17 379.50,44.00 379.65,45.81 379.79,47.61 379.93,49.40 380.09,51.21 380.27,53.07 380.50,55.00 380.82,57.44 381.18,60.05 381.58,62.73 382.02,65.35 382.49,67.81 383.00,70.00 383.36,71.36 383.73,72.65 384.12,73.85 384.54,74.98 384.99,76.03 385.50,77.00 385.93,77.73 386.38,78.42 386.85,79.06 387.35,79.64 387.90,80.16 388.50,80.60 389.11,80.94 389.71,81.20 390.35,81.38 391.08,81.53 391.95,81.66 393.00,81.80 397.91,82.18 404.84,82.34 413.15,82.37 422.20,82.33 431.37,82.28 440.00,82.30 449.72,82.30 460.52,82.19 471.45,82.08 481.55,82.06 489.85,82.24 495.40,82.70 496.33,82.86 497.07,83.02 497.67,83.19 498.20,83.40 498.72,83.66 499.30,84.00 500.07,84.52 500.85,85.15 501.61,85.86 502.35,86.63 503.05,87.45 503.70,88.30 504.33,89.29 504.88,90.38 505.38,91.53 505.87,92.69 506.36,93.82 506.90,94.90 507.42,95.85 507.94,96.79 508.46,97.71 509.01,98.60 509.58,99.47 510.20,100.30 510.86,101.08 511.56,101.83 512.29,102.55 513.04,103.25 513.78,103.93 514.50,104.60 515.14,105.20 515.78,105.77 516.41,106.33 517.04,106.89 517.67,107.44 518.30,108.00" fill="none" stroke="#222222" stroke-width="1.1" stroke-linejoin="round" />
<polyline points="378.80,65.50 379.15,65.39 379.48,65.28 379.80,65.17 380.15,65.07 380.54,64.97 381.00,64.90 382.08,64.82 383.35,64.82 384.79,64.86 386.38,64.92 388.12,64.98 390.00,65.00 394.04,64.98 398.89,64.94 404.22,64.87 409.72,64.77 415.09,64.65 420.00,64.50 423.79,64.34 427.43,64.15 430.97,63.94 434.47,63.73 437.96,63.51 441.50,63.30 462.80,52.40 470.00,8.00" fill="none" stroke="#a033ff" stroke-width="1.1" stroke-linejoin="round" />
<polyline points="378.80,69.50 379.15,69.34 379.47,69.17 379.80,69.01 380.14,68.85 380.54,68.71 381.00,68.60 382.10,68.49 383.41,68.48 384.89,68.55 386.51,68.65 388.22,68.74 390.00,68.80 392.83,68.83 395.93,68.85 399.25,68.87 402.74,68.88 406.34,68.89 410.00,68.90 414.71,68.94 419.74,69.01 424.95,69.08 430.16,69.11 435.23,69.06 440.00,68.90 443.76,68.65 447.37,68.32 450.88,67.93 454.34,67.51 457.79,67.09 461.30,66.70 472.20,58.80 481.30,8.00" fill="none" stroke="#3535a5" stroke-width="1.1" stroke-linejoin="round" />
<polyline points="378.80,74.00 379.08,73.76 379.34,73.50 379.61,73.24 379.89,72.99 380.18,72.78 380.50,72.60 380.86,72.46 381.23,72.37 381.63,72.30 382.05,72.26 382.50,72.23 383.00,72.20 383.92,72.17 384.94,72.19 386.05,72.24 387.27,72.30 388.58,72.36 390.00,72.40 392.69,72.45 395.76,72.49 399.11,72.53 402.65,72.56 406.31,72.58 410.00,72.60 414.72,72.62 419.78,72.66 425.00,72.68 430.23,72.67 435.28,72.62 440.00,72.50 443.66,72.35 447.27,72.17 450.76,71.96 454.09,71.72 457.18,71.46 460.00,71.20 461.73,71.02 463.37,70.85 464.90,70.66 466.33,70.46 467.63,70.24 468.80,70.00 469.42,69.85 469.97,69.72 470.46,69.58 470.95,69.41 471.45,69.19 472.00,68.90 473.00,68.30 474.12,67.55 475.28,66.68 476.43,65.71 477.49,64.64 478.40,63.50 479.23,62.11 479.93,60.57 480.52,58.92 481.04,57.19 481.52,55.40 482.00,53.60 482.52,51.48 482.97,49.27 483.37,46.99 483.74,44.67 484.11,42.33 484.50,40.00 484.92,37.55 485.34,35.09 485.76,32.61 486.17,30.10 486.58,27.56 487.00,25.00 487.45,22.23 487.90,19.41 488.35,16.57 488.80,13.71 489.25,10.85 489.70,8.00" fill="none" stroke="#2e9e2e" stroke-width="1.1" stroke-linejoin="round" />
<polyline points="378.80,84.00 379.04,83.29 379.27,82.57 379.49,81.85 379.73,81.14 380.00,80.45 380.30,79.80 380.61,79.20 380.93,78.61 381.28,78.04 381.66,77.50 382.06,77.02 382.50,76.60 382.94,76.28 383.40,76.02 383.89,75.79 384.41,75.60 384.94,75.44 385.50,75.30 386.15,75.17 386.80,75.10 387.48,75.06 388.22,75.04 389.05,75.03 390.00,75.00 392.46,74.94 395.46,74.91 398.86,74.90 402.51,74.91 406.27,74.91 410.00,74.90 414.68,74.90 419.65,74.92 424.79,74.95 429.98,74.95 435.09,74.91 440.00,74.80 444.38,74.65 448.74,74.49 453.05,74.28 457.23,74.02 461.24,73.70 465.00,73.30 467.85,72.96 470.68,72.62 473.39,72.24 475.91,71.78 478.14,71.21 480.00,70.50 480.88,70.02 481.63,69.52 482.27,68.97 482.86,68.38 483.42,67.73 484.00,67.00 484.76,65.90 485.48,64.62 486.17,63.24 486.82,61.84 487.43,60.50 488.00,59.30 488.38,58.54 488.74,57.88 489.07,57.24 489.39,56.58 489.70,55.85 490.00,55.00 490.49,53.28 490.94,51.27 491.36,49.07 491.76,46.74 492.14,44.36 492.50,42.00 492.89,39.30 493.26,36.51 493.61,33.65 493.93,30.76 494.22,27.86 494.50,25.00 494.75,22.17 494.96,19.34 495.15,16.50 495.33,13.67 495.51,10.83 495.70,8.00" fill="none" stroke="#ff33ff" stroke-width="1.1" stroke-linejoin="round" />
<polyline points="378.80,91.00 379.06,89.99 379.30,88.96 379.54,87.93 379.80,86.92 380.08,85.94 380.40,85.00 380.71,84.18 381.04,83.38 381.38,82.60 381.76,81.85 382.16,81.15 382.60,80.50 383.02,79.96 383.46,79.45 383.92,78.97 384.41,78.53 384.94,78.14 385.50,77.80 386.13,77.51 386.77,77.30 387.45,77.15 388.20,77.02 389.04,76.92 390.00,76.80 392.46,76.59 395.45,76.46 398.85,76.40 402.50,76.37 406.27,76.34 410.00,76.30 414.68,76.25 419.65,76.23 424.79,76.22 429.98,76.20 435.09,76.17 440.00,76.10 444.37,76.01 448.74,75.90 453.04,75.77 457.22,75.63 461.23,75.47 465.00,75.30 467.82,75.18 470.60,75.09 473.27,74.99 475.78,74.84 478.04,74.62 480.00,74.30 480.99,74.08 481.89,73.84 482.71,73.58 483.45,73.28 484.15,72.93 484.80,72.50 485.35,72.04 485.83,71.52 486.26,70.95 486.67,70.34 487.07,69.69 487.50,69.00 488.08,67.99 488.66,66.86 489.23,65.66 489.80,64.42 490.39,63.19 491.00,62.00 491.66,60.86 492.37,59.76 493.08,58.67 493.78,57.53 494.43,56.33 495.00,55.00 495.60,53.12 496.08,51.07 496.48,48.90 496.83,46.64 497.16,44.32 497.50,42.00 497.89,39.30 498.24,36.51 498.57,33.65 498.89,30.76 499.19,27.86 499.50,25.00 499.80,22.17 500.09,19.33 500.37,16.50 500.64,13.67 500.92,10.83 501.20,8.00" fill="none" stroke="#2b2bff" stroke-width="1.1" stroke-linejoin="round" />
<polyline points="378.80,99.00 379.07,97.66 379.34,96.30 379.60,94.94 379.88,93.60 380.17,92.28 380.50,91.00 380.82,89.85 381.15,88.71 381.49,87.59 381.86,86.51 382.26,85.47 382.70,84.50 383.10,83.70 383.53,82.93 383.98,82.20 384.45,81.51 384.96,80.87 385.50,80.30 385.99,79.85 386.47,79.44 386.97,79.08 387.54,78.76 388.20,78.47 389.00,78.20 391.41,77.75 394.52,77.53 398.13,77.47 402.05,77.49 406.07,77.52 410.00,77.50 414.69,77.43 419.60,77.39 424.67,77.38 429.80,77.36 434.94,77.34 440.00,77.30 445.16,77.24 450.50,77.19 455.85,77.13 461.00,77.05 465.78,76.94 470.00,76.80 472.34,76.71 474.50,76.64 476.50,76.56 478.39,76.45 480.21,76.27 482.00,76.00 483.52,75.73 485.04,75.43 486.51,75.09 487.88,74.69 489.09,74.20 490.10,73.60 490.67,73.10 491.12,72.56 491.50,71.97 491.83,71.34 492.15,70.69 492.50,70.00 492.93,69.11 493.34,68.17 493.73,67.18 494.12,66.15 494.54,65.09 495.00,64.00 495.66,62.62 496.40,61.21 497.18,59.74 497.95,58.22 498.67,56.64 499.30,55.00 499.90,53.02 500.40,50.94 500.83,48.79 501.22,46.57 501.61,44.30 502.00,42.00 502.46,39.30 502.89,36.51 503.31,33.65 503.71,30.76 504.11,27.86 504.50,25.00 504.88,22.17 505.26,19.33 505.62,16.50 505.98,13.67 506.34,10.83 506.70,8.00" fill="none" stroke="#ff1a1a" stroke-width="1.1" stroke-linejoin="round" />
<polyline points="378.60,108.00 378.91,105.97 379.21,103.92 379.50,101.86 379.81,99.84 380.14,97.87 380.50,96.00 380.82,94.47 381.15,92.97 381.49,91.51 381.85,90.11 382.25,88.77 382.70,87.50 383.10,86.50 383.52,85.54 383.96,84.62 384.44,83.75 384.95,82.94 385.50,82.20 386.01,81.60 386.54,81.04 387.09,80.53 387.68,80.06 388.31,79.65 389.00,79.30 389.85,78.99 390.74,78.78 391.70,78.65 392.72,78.56 393.82,78.49 395.00,78.40 397.05,78.27 399.31,78.19 401.75,78.16 404.37,78.14 407.12,78.13 410.00,78.10 414.40,78.05 419.24,78.02 424.36,78.00 429.62,77.97 434.88,77.94 440.00,77.90 445.04,77.86 450.12,77.82 455.19,77.78 460.23,77.72 465.18,77.63 470.00,77.50 474.49,77.45 479.20,77.49 483.85,77.51 488.13,77.38 491.74,76.98 494.40,76.20 495.22,75.70 495.86,75.14 496.37,74.52 496.79,73.87 497.19,73.19 497.60,72.50 498.01,71.78 498.37,71.05 498.70,70.28 499.01,69.49 499.34,68.66 499.70,67.80 500.22,66.60 500.78,65.28 501.36,63.92 501.94,62.55 502.49,61.22 503.00,60.00 503.36,59.13 503.68,58.32 503.98,57.55 504.29,56.77 504.62,55.93 505.00,55.00 505.68,53.44 506.46,51.74 507.30,49.92 508.14,48.01 508.92,46.03 509.60,44.00 510.24,41.55 510.77,38.99 511.22,36.33 511.64,33.59 512.05,30.81 512.50,28.00 513.02,24.80 513.54,21.50 514.06,18.14 514.57,14.75 515.08,11.36 515.60,8.00" fill="none" stroke="#222222" stroke-width="1.1" stroke-linejoin="round" />
<line x1="378.50" y1="8.00" x2="522.00" y2="8.00" stroke="#7a7a7a" stroke-width="1"/>
<line x1="522.00" y1="8.00" x2="522.00" y2="108.50" stroke="#7a7a7a" stroke-width="1"/>
<line x1="378.50" y1="108.50" x2="522.00" y2="108.50" stroke="#555" stroke-width="1"/>
<line x1="378.50" y1="8.00" x2="378.50" y2="108.50" stroke="#555" stroke-width="1"/>
<line x1="378.50" y1="108.50" x2="378.50" y2="110.70" stroke="#444" stroke-width="0.9"/>
<line x1="389.75" y1="108.50" x2="389.75" y2="109.80" stroke="#444" stroke-width="0.8"/>
<text x="378.50" y="116.90" font-size="5.4" text-anchor="middle" font-weight="bold" fill="#111" stroke="#111" stroke-width="0.22">0</text>
<line x1="401.00" y1="108.50" x2="401.00" y2="110.70" stroke="#444" stroke-width="0.9"/>
<line x1="412.25" y1="108.50" x2="412.25" y2="109.80" stroke="#444" stroke-width="0.8"/>
<text x="401.00" y="116.90" font-size="5.4" text-anchor="middle" font-weight="bold" fill="#111" stroke="#111" stroke-width="0.22">30</text>
<line x1="423.50" y1="108.50" x2="423.50" y2="110.70" stroke="#444" stroke-width="0.9"/>
<line x1="434.75" y1="108.50" x2="434.75" y2="109.80" stroke="#444" stroke-width="0.8"/>
<text x="423.50" y="116.90" font-size="5.4" text-anchor="middle" font-weight="bold" fill="#111" stroke="#111" stroke-width="0.22">60</text>
<line x1="446.00" y1="108.50" x2="446.00" y2="110.70" stroke="#444" stroke-width="0.9"/>
<line x1="457.25" y1="108.50" x2="457.25" y2="109.80" stroke="#444" stroke-width="0.8"/>
<text x="446.00" y="116.90" font-size="5.4" text-anchor="middle" font-weight="bold" fill="#111" stroke="#111" stroke-width="0.22">90</text>
<line x1="468.50" y1="108.50" x2="468.50" y2="110.70" stroke="#444" stroke-width="0.9"/>
<line x1="479.75" y1="108.50" x2="479.75" y2="109.80" stroke="#444" stroke-width="0.8"/>
<text x="468.50" y="116.90" font-size="5.4" text-anchor="middle" font-weight="bold" fill="#111" stroke="#111" stroke-width="0.22">120</text>
<line x1="491.00" y1="108.50" x2="491.00" y2="110.70" stroke="#444" stroke-width="0.9"/>
<line x1="502.25" y1="108.50" x2="502.25" y2="109.80" stroke="#444" stroke-width="0.8"/>
<text x="491.00" y="116.90" font-size="5.4" text-anchor="middle" font-weight="bold" fill="#111" stroke="#111" stroke-width="0.22">150</text>
<line x1="513.50" y1="108.50" x2="513.50" y2="110.70" stroke="#444" stroke-width="0.9"/>
<text x="513.50" y="116.90" font-size="5.4" text-anchor="middle" font-weight="bold" fill="#111" stroke="#111" stroke-width="0.22">180</text>
<line x1="376.30" y1="108.50" x2="378.50" y2="108.50" stroke="#444" stroke-width="0.9"/>
<line x1="377.20" y1="96.00" x2="378.50" y2="96.00" stroke="#444" stroke-width="0.8"/>
<text x="375.00" y="110.40" font-size="5.4" text-anchor="end" font-weight="bold" fill="#222" stroke="#222" stroke-width="0.22">1.0</text>
<line x1="376.30" y1="83.50" x2="378.50" y2="83.50" stroke="#444" stroke-width="0.9"/>
<line x1="377.20" y1="71.00" x2="378.50" y2="71.00" stroke="#444" stroke-width="0.8"/>
<text x="375.00" y="85.40" font-size="5.4" text-anchor="end" font-weight="bold" fill="#222" stroke="#222" stroke-width="0.22">1.5</text>
<line x1="376.30" y1="58.50" x2="378.50" y2="58.50" stroke="#444" stroke-width="0.9"/>
<line x1="377.20" y1="46.00" x2="378.50" y2="46.00" stroke="#444" stroke-width="0.8"/>
<text x="375.00" y="60.40" font-size="5.4" text-anchor="end" font-weight="bold" fill="#222" stroke="#222" stroke-width="0.22">2.0</text>
<line x1="376.30" y1="33.50" x2="378.50" y2="33.50" stroke="#444" stroke-width="0.9"/>
<line x1="377.20" y1="21.00" x2="378.50" y2="21.00" stroke="#444" stroke-width="0.8"/>
<text x="375.00" y="35.40" font-size="5.4" text-anchor="end" font-weight="bold" fill="#222" stroke="#222" stroke-width="0.22">2.5</text>
<line x1="376.30" y1="8.50" x2="378.50" y2="8.50" stroke="#444" stroke-width="0.9"/>
<text x="375.00" y="10.40" font-size="5.4" text-anchor="end" font-weight="bold" fill="#222" stroke="#222" stroke-width="0.22">3.0</text>
<text x="381.60" y="17.60" font-size="9.5" text-anchor="start" font-weight="normal" fill="#1a1a1a" stroke="#1a1a1a" stroke-width="0.15">(C)</text>
<line x1="400.80" y1="14.40" x2="413.30" y2="14.40" stroke="#222222" stroke-width="1.1"/>
<text x="427.00" y="15.90" font-size="4.2" text-anchor="end" fill="#222">0.2 Ag<tspan font-size="2.94" dy="-1.90">-1</tspan></text>
<line x1="400.80" y1="21.87" x2="413.30" y2="21.87" stroke="#ff1a1a" stroke-width="1.1"/>
<text x="427.00" y="23.37" font-size="4.2" text-anchor="end" fill="#222">0.5 Ag<tspan font-size="2.94" dy="-1.90">-1</tspan></text>
<line x1="400.80" y1="29.34" x2="413.30" y2="29.34" stroke="#2b2bff" stroke-width="1.1"/>
<text x="427.00" y="30.84" font-size="4.2" text-anchor="end" fill="#222">1 Ag<tspan font-size="2.94" dy="-1.90">-1</tspan></text>
<line x1="400.80" y1="36.81" x2="413.30" y2="36.81" stroke="#ff33ff" stroke-width="1.1"/>
<text x="427.00" y="38.31" font-size="4.2" text-anchor="end" fill="#222">2 Ag<tspan font-size="2.94" dy="-1.90">-1</tspan></text>
<line x1="400.80" y1="44.28" x2="413.30" y2="44.28" stroke="#2e9e2e" stroke-width="1.1"/>
<text x="427.00" y="45.78" font-size="4.2" text-anchor="end" fill="#222">5 Ag<tspan font-size="2.94" dy="-1.90">-1</tspan></text>
<line x1="400.80" y1="51.75" x2="413.30" y2="51.75" stroke="#3535a5" stroke-width="1.1"/>
<text x="427.00" y="53.25" font-size="4.2" text-anchor="end" fill="#222">10 Ag<tspan font-size="2.94" dy="-1.90">-1</tspan></text>
<line x1="400.80" y1="59.22" x2="413.30" y2="59.22" stroke="#a033ff" stroke-width="1.1"/>
<text x="427.00" y="60.72" font-size="4.2" text-anchor="end" fill="#222">20 Ag<tspan font-size="2.94" dy="-1.90">-1</tspan></text>
<text x="450.25" y="128.1" font-size="5.7" text-anchor="middle" font-weight="bold" fill="#111" stroke="#111" stroke-width="0.2">Specific Capacity (mAhg<tspan font-size="4.0" dy="-2">-1</tspan><tspan dy="2">)</tspan></text>
<text transform="translate(364.20,61.2) rotate(-90)" font-size="5.6" text-anchor="middle" font-weight="bold" fill="#111" stroke="#111" stroke-width="0.2">Voltage (V vs Li/Li<tspan font-size="4" dy="-1.8">+</tspan><tspan dy="1.8">)</tspan></text>
<polyline points="25.30,167.80 25.96,168.03 26.63,168.27 27.29,168.50 27.95,168.73 28.61,168.97 29.28,169.20 29.94,169.44 30.60,169.68 31.26,169.92 31.92,170.16 32.58,170.39 33.25,170.60 33.91,170.80 34.57,170.98 35.23,171.16 35.89,171.33 36.56,171.47 37.23,171.60 37.88,171.70 38.55,171.78 39.21,171.84 39.87,171.89 40.54,171.94 41.20,172.00" fill="none" stroke="#111" stroke-width="2.0" stroke-linejoin="round" stroke-linecap="square"/>
<polyline points="44.30,174.60 61.50,175.20" fill="none" stroke="#111" stroke-width="2.0" stroke-linejoin="round" stroke-linecap="square"/>
<polyline points="64.80,177.20 82.00,177.40" fill="none" stroke="#111" stroke-width="2.0" stroke-linejoin="round" stroke-linecap="square"/>
<polyline points="85.20,182.80 102.60,183.20" fill="none" stroke="#111" stroke-width="2.0" stroke-linejoin="round" stroke-linecap="square"/>
<polyline points="105.20,190.60 123.00,190.80" fill="none" stroke="#111" stroke-width="2.0" stroke-linejoin="round" stroke-linecap="square"/>
<polyline points="126.00,197.80 143.30,197.40" fill="none" stroke="#111" stroke-width="2.0" stroke-linejoin="round" stroke-linecap="square"/>
<polyline points="146.30,209.90 164.20,209.40" fill="none" stroke="#111" stroke-width="2.0" stroke-linejoin="round" stroke-linecap="square"/>
<polyline points="25.30,169.20 25.96,169.47 26.62,169.73 27.29,170.00 27.95,170.27 28.61,170.53 29.28,170.80 29.94,171.07 30.60,171.35 31.26,171.62 31.92,171.90 32.58,172.16 33.25,172.40 33.91,172.63 34.57,172.85 35.23,173.06 35.89,173.26 36.56,173.44 37.22,173.60 37.88,173.73 38.55,173.84 39.21,173.94 39.87,174.02 40.54,174.11 41.20,174.20" fill="none" stroke="#ff1010" stroke-width="2.0" stroke-linejoin="round" stroke-linecap="square"/>
<polyline points="44.30,176.40 61.50,177.10" fill="none" stroke="#ff1010" stroke-width="2.0" stroke-linejoin="round" stroke-linecap="square"/>
<polyline points="64.80,178.40 82.00,178.80" fill="none" stroke="#ff1010" stroke-width="2.0" stroke-linejoin="round" stroke-linecap="square"/>
<polyline points="85.20,180.00 102.60,180.40" fill="none" stroke="#ff1010" stroke-width="2.0" stroke-linejoin="round" stroke-linecap="square"/>
<polyline points="105.20,182.40 123.00,182.80" fill="none" stroke="#ff1010" stroke-width="2.0" stroke-linejoin="round" stroke-linecap="square"/>
<polyline points="126.00,184.80 143.30,184.90" fill="none" stroke="#ff1010" stroke-width="2.0" stroke-linejoin="round" stroke-linecap="square"/>
<polyline points="146.30,187.20 164.20,187.40" fill="none" stroke="#ff1010" stroke-width="2.0" stroke-linejoin="round" stroke-linecap="square"/>
<polyline points="25.30,156.60 25.96,156.94 26.62,157.27 27.29,157.61 27.95,157.95 28.61,158.28 29.28,158.60 29.93,158.92 30.59,159.24 31.25,159.56 31.91,159.86 32.58,160.15 33.25,160.40 33.91,160.61 34.56,160.80 35.23,160.97 35.89,161.12 36.56,161.26 37.23,161.40 37.89,161.52 38.55,161.63 39.21,161.72 39.87,161.81 40.54,161.90 41.20,162.00" fill="none" stroke="#1515ff" stroke-width="2.1" stroke-linejoin="round" stroke-linecap="square"/>
<polyline points="44.30,163.60 61.50,164.40" fill="none" stroke="#1515ff" stroke-width="2.1" stroke-linejoin="round" stroke-linecap="square"/>
<polyline points="64.80,166.60 82.00,167.50" fill="none" stroke="#1515ff" stroke-width="2.1" stroke-linejoin="round" stroke-linecap="square"/>
<polyline points="85.20,169.20 102.60,169.80" fill="none" stroke="#1515ff" stroke-width="2.1" stroke-linejoin="round" stroke-linecap="square"/>
<polyline points="105.20,173.60 105.57,173.58 105.94,173.57 106.31,173.55 106.68,173.53 107.05,173.52 107.43,173.50 107.80,173.49 108.17,173.50 108.54,173.51 108.92,173.50 109.29,173.47 109.65,173.40 110.03,173.27 110.40,173.08 110.76,172.87 111.13,172.65 111.50,172.45 111.88,172.30 112.24,172.18 112.61,172.07 112.99,171.98 113.36,171.91 113.73,171.88 114.10,171.90 114.47,171.99 114.84,172.15 115.21,172.35 115.58,172.57 115.95,172.76 116.33,172.90 116.69,172.99 117.06,173.05 117.43,173.10 117.80,173.13 118.18,173.16 118.55,173.20 118.92,173.24 119.29,173.27 119.66,173.31 120.03,173.34 120.40,173.37 120.78,173.40 121.15,173.43 121.52,173.47 121.89,173.50 122.26,173.53 122.63,173.57 123.00,173.60" fill="none" stroke="#1515ff" stroke-width="2.1" stroke-linejoin="round" stroke-linecap="square"/>
<polyline points="126.00,177.40 143.30,177.50" fill="none" stroke="#1515ff" stroke-width="2.1" stroke-linejoin="round" stroke-linecap="square"/>
<polyline points="146.30,183.40 164.20,183.00" fill="none" stroke="#1515ff" stroke-width="2.1" stroke-linejoin="round" stroke-linecap="square"/>
<line x1="24.50" y1="134.40" x2="168.00" y2="134.40" stroke="#7a7a7a" stroke-width="1"/>
<line x1="168.00" y1="134.40" x2="168.00" y2="234.00" stroke="#7a7a7a" stroke-width="1"/>
<line x1="24.50" y1="234.00" x2="168.00" y2="234.00" stroke="#555" stroke-width="1"/>
<line x1="24.50" y1="134.40" x2="24.50" y2="234.00" stroke="#555" stroke-width="1"/>
<line x1="24.50" y1="234.00" x2="24.50" y2="236.20" stroke="#444" stroke-width="0.9"/>
<line x1="33.02" y1="234.00" x2="33.02" y2="235.30" stroke="#444" stroke-width="0.8"/>
<text x="24.50" y="242.60" font-size="5.4" text-anchor="middle" font-weight="bold" fill="#111" stroke="#111" stroke-width="0.22">0</text>
<line x1="41.55" y1="234.00" x2="41.55" y2="236.20" stroke="#444" stroke-width="0.9"/>
<line x1="50.07" y1="234.00" x2="50.07" y2="235.30" stroke="#444" stroke-width="0.8"/>
<text x="41.55" y="242.60" font-size="5.4" text-anchor="middle" font-weight="bold" fill="#111" stroke="#111" stroke-width="0.22">10</text>
<line x1="58.60" y1="234.00" x2="58.60" y2="236.20" stroke="#444" stroke-width="0.9"/>
<line x1="67.12" y1="234.00" x2="67.12" y2="235.30" stroke="#444" stroke-width="0.8"/>
<text x="58.60" y="242.60" font-size="5.4" text-anchor="middle" font-weight="bold" fill="#111" stroke="#111" stroke-width="0.22">20</text>
<line x1="75.65" y1="234.00" x2="75.65" y2="236.20" stroke="#444" stroke-width="0.9"/>
<line x1="84.18" y1="234.00" x2="84.18" y2="235.30" stroke="#444" stroke-width="0.8"/>
<text x="75.65" y="242.60" font-size="5.4" text-anchor="middle" font-weight="bold" fill="#111" stroke="#111" stroke-width="0.22">30</text>
<line x1="92.70" y1="234.00" x2="92.70" y2="236.20" stroke="#444" stroke-width="0.9"/>
<line x1="101.23" y1="234.00" x2="101.23" y2="235.30" stroke="#444" stroke-width="0.8"/>
<text x="92.70" y="242.60" font-size="5.4" text-anchor="middle" font-weight="bold" fill="#111" stroke="#111" stroke-width="0.22">40</text>
<line x1="109.75" y1="234.00" x2="109.75" y2="236.20" stroke="#444" stroke-width="0.9"/>
<line x1="118.28" y1="234.00" x2="118.28" y2="235.30" stroke="#444" stroke-width="0.8"/>
<text x="109.75" y="242.60" font-size="5.4" text-anchor="middle" font-weight="bold" fill="#111" stroke="#111" stroke-width="0.22">50</text>
<line x1="126.80" y1="234.00" x2="126.80" y2="236.20" stroke="#444" stroke-width="0.9"/>
<line x1="135.33" y1="234.00" x2="135.33" y2="235.30" stroke="#444" stroke-width="0.8"/>
<text x="126.80" y="242.60" font-size="5.4" text-anchor="middle" font-weight="bold" fill="#111" stroke="#111" stroke-width="0.22">60</text>
<line x1="143.85" y1="234.00" x2="143.85" y2="236.20" stroke="#444" stroke-width="0.9"/>
<line x1="152.38" y1="234.00" x2="152.38" y2="235.30" stroke="#444" stroke-width="0.8"/>
<text x="143.85" y="242.60" font-size="5.4" text-anchor="middle" font-weight="bold" fill="#111" stroke="#111" stroke-width="0.22">70</text>
<line x1="160.90" y1="234.00" x2="160.90" y2="236.20" stroke="#444" stroke-width="0.9"/>
<text x="160.90" y="242.60" font-size="5.4" text-anchor="middle" font-weight="bold" fill="#111" stroke="#111" stroke-width="0.22">80</text>
<line x1="22.30" y1="234.00" x2="24.50" y2="234.00" stroke="#444" stroke-width="0.9"/>
<line x1="23.20" y1="225.70" x2="24.50" y2="225.70" stroke="#444" stroke-width="0.8"/>
<text x="21.00" y="235.90" font-size="5.4" text-anchor="end" font-weight="bold" fill="#222" stroke="#222" stroke-width="0.22">0</text>
<line x1="22.30" y1="217.40" x2="24.50" y2="217.40" stroke="#444" stroke-width="0.9"/>
<line x1="23.20" y1="209.10" x2="24.50" y2="209.10" stroke="#444" stroke-width="0.8"/>
<text x="21.00" y="219.30" font-size="5.4" text-anchor="end" font-weight="bold" fill="#222" stroke="#222" stroke-width="0.22">40</text>
<line x1="22.30" y1="200.80" x2="24.50" y2="200.80" stroke="#444" stroke-width="0.9"/>
<line x1="23.20" y1="192.50" x2="24.50" y2="192.50" stroke="#444" stroke-width="0.8"/>
<text x="21.00" y="202.70" font-size="5.4" text-anchor="end" font-weight="bold" fill="#222" stroke="#222" stroke-width="0.22">80</text>
<line x1="22.30" y1="184.20" x2="24.50" y2="184.20" stroke="#444" stroke-width="0.9"/>
<line x1="23.20" y1="175.90" x2="24.50" y2="175.90" stroke="#444" stroke-width="0.8"/>
<text x="21.00" y="186.10" font-size="5.4" text-anchor="end" font-weight="bold" fill="#222" stroke="#222" stroke-width="0.22">120</text>
<line x1="22.30" y1="167.60" x2="24.50" y2="167.60" stroke="#444" stroke-width="0.9"/>
<line x1="23.20" y1="159.30" x2="24.50" y2="159.30" stroke="#444" stroke-width="0.8"/>
<text x="21.00" y="169.50" font-size="5.4" text-anchor="end" font-weight="bold" fill="#222" stroke="#222" stroke-width="0.22">160</text>
<line x1="22.30" y1="151.00" x2="24.50" y2="151.00" stroke="#444" stroke-width="0.9"/>
<line x1="23.20" y1="142.70" x2="24.50" y2="142.70" stroke="#444" stroke-width="0.8"/>
<text x="21.00" y="152.90" font-size="5.4" text-anchor="end" font-weight="bold" fill="#222" stroke="#222" stroke-width="0.22">200</text>
<line x1="22.30" y1="134.40" x2="24.50" y2="134.40" stroke="#444" stroke-width="0.9"/>
<text x="21.00" y="136.30" font-size="5.4" text-anchor="end" font-weight="bold" fill="#222" stroke="#222" stroke-width="0.22">240</text>
<text x="28.90" y="144.40" font-size="9.1" text-anchor="start" font-weight="normal" fill="#1a1a1a" stroke="#1a1a1a" stroke-width="0.15">(D)</text>
<text x="26.00" y="155.10" font-size="5.1" text-anchor="start" fill="#333">0.2 Ag<tspan font-size="3.57" dy="-2">-1</tspan></text>
<text x="45.70" y="162.30" font-size="5.1" text-anchor="start" fill="#333">0.5 Ag<tspan font-size="3.57" dy="-2">-1</tspan></text>
<text x="68.20" y="165.00" font-size="5.1" text-anchor="start" fill="#333">1 Ag<tspan font-size="3.57" dy="-2">-1</tspan></text>
<text x="88.80" y="167.20" font-size="5.1" text-anchor="start" fill="#333">2 Ag<tspan font-size="3.57" dy="-2">-1</tspan></text>
<text x="107.90" y="168.80" font-size="5.1" text-anchor="start" fill="#333">5 Ag<tspan font-size="3.57" dy="-2">-1</tspan></text>
<text x="128.40" y="174.20" font-size="5.1" text-anchor="start" fill="#333">10 Ag<tspan font-size="3.57" dy="-2">-1</tspan></text>
<text x="148.60" y="181.00" font-size="5.1" text-anchor="start" fill="#333">20 Ag<tspan font-size="3.57" dy="-2">-1</tspan></text>
<rect x="35.40" y="208.30" width="2.2" height="2.2" fill="#111"/>
<text x="43.5" y="211.20" font-size="5.8" fill="#333">Li<tspan font-size="4.9" dy="1.1">4</tspan><tspan dy="-1.1">Ti</tspan><tspan font-size="4.9" dy="1.1">5</tspan><tspan dy="-1.1">O</tspan><tspan font-size="4.9" dy="1.1">12</tspan></text>
<rect x="35.40" y="217.20" width="2.2" height="2.2" fill="#ff1010"/>
<text x="43.5" y="220.10" font-size="5.8" fill="#333">La doped LTO</text>
<rect x="35.40" y="224.20" width="2.2" height="2.2" fill="#1515ff"/>
<text x="43.5" y="226.80" font-size="5.8" fill="#333">Ce doped LTO</text>
<text x="96.2" y="253.0" font-size="5.45" text-anchor="middle" font-weight="bold" fill="#111" stroke="#111" stroke-width="0.2">Cycle number</text>
<text transform="translate(9.90,188.00) rotate(-90)" font-size="5.6" text-anchor="middle" font-weight="bold" fill="#111" stroke="#111" stroke-width="0.2">Specific Capacity (mAhg<tspan font-size="4" dy="-1.8">-1</tspan><tspan dy="1.8">)</tspan></text>
<polyline points="198.90,173.80 199.08,174.06 199.24,174.32 199.41,174.59 199.58,174.85 199.78,175.09 200.00,175.30 200.28,175.50 200.59,175.66 200.92,175.81 201.27,175.94 201.63,176.07 202.00,176.20 202.45,176.36 202.92,176.51 203.41,176.65 203.92,176.79 204.45,176.94 205.00,177.10 205.76,177.33 206.57,177.59 207.42,177.86 208.28,178.12 209.15,178.37 210.00,178.60 210.83,178.80 211.66,178.98 212.49,179.15 213.33,179.31 214.16,179.46 215.00,179.60 215.81,179.72 216.60,179.83 217.39,179.92 218.20,180.01 219.07,180.10 220.00,180.20 221.47,180.36 223.08,180.54 224.78,180.73 226.54,180.90 228.29,181.07 230.00,181.20 231.67,181.31 233.33,181.39 235.00,181.46 236.67,181.52 238.33,181.56 240.00,181.60 241.67,181.63 243.33,181.64 245.00,181.65 246.67,181.64 248.33,181.63 250.00,181.60 251.64,181.55 253.26,181.47 254.87,181.38 256.52,181.30 258.22,181.23 260.00,181.20 262.30,181.20 264.71,181.24 267.20,181.31 269.76,181.40 272.37,181.50 275.00,181.60 278.08,181.75 281.32,181.93 284.63,182.13 287.89,182.33 291.01,182.49 293.90,182.60 295.94,182.64 297.90,182.66 299.77,182.67 301.57,182.65 303.31,182.63 305.00,182.60 306.34,182.58 307.62,182.55 308.86,182.52 310.08,182.47 311.28,182.40 312.50,182.30 313.67,182.14 314.83,181.93 315.97,181.69 317.12,181.47 318.30,181.29 319.50,181.20 320.84,181.21 322.20,181.31 323.57,181.47 324.99,181.66 326.46,181.84 328.00,182.00 330.08,182.17 332.30,182.33 334.60,182.50 336.95,182.67 339.30,182.83 341.60,183.00" fill="none" stroke="#7c7c7c" stroke-width="2.8" stroke-linejoin="round" />
<polyline points="198.90,173.80 199.08,174.06 199.24,174.32 199.41,174.59 199.58,174.85 199.78,175.09 200.00,175.30 200.28,175.50 200.59,175.66 200.92,175.81 201.27,175.94 201.63,176.07 202.00,176.20 202.45,176.36 202.92,176.51 203.41,176.65 203.92,176.79 204.45,176.94 205.00,177.10 205.76,177.33 206.57,177.59 207.42,177.86 208.28,178.12 209.15,178.37 210.00,178.60 210.83,178.80 211.66,178.98 212.49,179.15 213.33,179.31 214.16,179.46 215.00,179.60 215.81,179.72 216.60,179.83 217.39,179.92 218.20,180.01 219.07,180.10 220.00,180.20 221.47,180.36 223.08,180.54 224.78,180.73 226.54,180.90 228.29,181.07 230.00,181.20 231.67,181.31 233.33,181.39 235.00,181.46 236.67,181.52 238.33,181.56 240.00,181.60 241.67,181.63 243.33,181.64 245.00,181.65 246.67,181.64 248.33,181.63 250.00,181.60 251.64,181.55 253.26,181.47 254.87,181.38 256.52,181.30 258.22,181.23 260.00,181.20 262.30,181.20 264.71,181.24 267.20,181.31 269.76,181.40 272.37,181.50 275.00,181.60 278.08,181.75 281.32,181.93 284.63,182.13 287.89,182.33 291.01,182.49 293.90,182.60 295.94,182.64 297.90,182.66 299.77,182.67 301.57,182.65 303.31,182.63 305.00,182.60 306.34,182.58 307.62,182.55 308.86,182.52 310.08,182.47 311.28,182.40 312.50,182.30 313.67,182.14 314.83,181.93 315.97,181.69 317.12,181.47 318.30,181.29 319.50,181.20 320.84,181.21 322.20,181.31 323.57,181.47 324.99,181.66 326.46,181.84 328.00,182.00 330.08,182.17 332.30,182.33 334.60,182.50 336.95,182.67 339.30,182.83 341.60,183.00" fill="none" stroke="#b8b8b8" stroke-width="0.8" stroke-linejoin="round" />
<polyline points="199.00,146.60 200.30,148.70 202.00,148.82 204.80,148.91 207.60,148.86 210.40,148.93 213.20,148.94 216.00,148.77 218.80,148.75 221.60,149.00 224.40,148.83 227.20,148.82 230.00,149.05 232.80,148.89 235.60,149.00 238.40,148.89 241.20,148.94 244.00,148.80 246.80,148.94 249.60,149.01 252.40,148.91 255.20,148.97 258.00,148.95 260.80,148.77 263.60,148.98 266.40,148.93 269.20,148.84 272.00,148.76 274.80,149.01 277.60,148.89 280.40,148.97 283.20,149.01 286.00,148.96 288.80,149.03 291.60,148.87 294.40,148.99 297.20,148.88 300.00,149.03 302.80,149.01 305.60,148.78 308.40,148.79 311.20,148.82 314.00,149.04 316.80,148.88 319.60,148.94 322.40,148.84 325.20,148.90 328.00,148.87 330.80,148.86 333.60,148.93 336.40,148.93 339.20,149.02 341.80,148.90" fill="none" stroke="#2020ff" stroke-width="2.0" stroke-linejoin="round" />
<polyline points="199.00,146.60 200.30,148.70 202.00,148.82 204.80,148.91 207.60,148.86 210.40,148.93 213.20,148.94 216.00,148.77 218.80,148.75 221.60,149.00 224.40,148.83 227.20,148.82 230.00,149.05 232.80,148.89 235.60,149.00 238.40,148.89 241.20,148.94 244.00,148.80 246.80,148.94 249.60,149.01 252.40,148.91 255.20,148.97 258.00,148.95 260.80,148.77 263.60,148.98 266.40,148.93 269.20,148.84 272.00,148.76 274.80,149.01 277.60,148.89 280.40,148.97 283.20,149.01 286.00,148.96 288.80,149.03 291.60,148.87 294.40,148.99 297.20,148.88 300.00,149.03 302.80,149.01 305.60,148.78 308.40,148.79 311.20,148.82 314.00,149.04 316.80,148.88 319.60,148.94 322.40,148.84 325.20,148.90 328.00,148.87 330.80,148.86 333.60,148.93 336.40,148.93 339.20,149.02 341.80,148.90" fill="none" stroke="#6b6bff" stroke-width="0.5" stroke-linejoin="round" />
<line x1="198.50" y1="132.20" x2="342.60" y2="132.20" stroke="#7a7a7a" stroke-width="1"/>
<line x1="198.50" y1="232.00" x2="342.60" y2="232.00" stroke="#555" stroke-width="1"/>
<line x1="198.50" y1="132.20" x2="198.50" y2="232.00" stroke="#555" stroke-width="1"/>
<line x1="342.60" y1="132.20" x2="342.60" y2="232.00" stroke="#3c3cff" stroke-width="1"/>
<line x1="198.50" y1="232.00" x2="198.50" y2="234.20" stroke="#444" stroke-width="0.9"/>
<line x1="212.91" y1="232.00" x2="212.91" y2="233.30" stroke="#444" stroke-width="0.8"/>
<text x="198.50" y="240.60" font-size="5.4" text-anchor="middle" font-weight="bold" fill="#111" stroke="#111" stroke-width="0.22">0</text>
<line x1="227.32" y1="232.00" x2="227.32" y2="234.20" stroke="#444" stroke-width="0.9"/>
<line x1="241.73" y1="232.00" x2="241.73" y2="233.30" stroke="#444" stroke-width="0.8"/>
<text x="227.32" y="240.60" font-size="5.4" text-anchor="middle" font-weight="bold" fill="#111" stroke="#111" stroke-width="0.22">200</text>
<line x1="256.14" y1="232.00" x2="256.14" y2="234.20" stroke="#444" stroke-width="0.9"/>
<line x1="270.55" y1="232.00" x2="270.55" y2="233.30" stroke="#444" stroke-width="0.8"/>
<text x="256.14" y="240.60" font-size="5.4" text-anchor="middle" font-weight="bold" fill="#111" stroke="#111" stroke-width="0.22">400</text>
<line x1="284.96" y1="232.00" x2="284.96" y2="234.20" stroke="#444" stroke-width="0.9"/>
<line x1="299.37" y1="232.00" x2="299.37" y2="233.30" stroke="#444" stroke-width="0.8"/>
<text x="284.96" y="240.60" font-size="5.4" text-anchor="middle" font-weight="bold" fill="#111" stroke="#111" stroke-width="0.22">600</text>
<line x1="313.78" y1="232.00" x2="313.78" y2="234.20" stroke="#444" stroke-width="0.9"/>
<line x1="328.19" y1="232.00" x2="328.19" y2="233.30" stroke="#444" stroke-width="0.8"/>
<text x="313.78" y="240.60" font-size="5.4" text-anchor="middle" font-weight="bold" fill="#111" stroke="#111" stroke-width="0.22">800</text>
<line x1="342.60" y1="232.00" x2="342.60" y2="234.20" stroke="#444" stroke-width="0.9"/>
<text x="342.60" y="240.60" font-size="5.4" text-anchor="middle" font-weight="bold" fill="#111" stroke="#111" stroke-width="0.22">1000</text>
<line x1="196.30" y1="232.00" x2="198.50" y2="232.00" stroke="#444" stroke-width="0.9"/>
<line x1="197.20" y1="223.68" x2="198.50" y2="223.68" stroke="#444" stroke-width="0.8"/>
<text x="195.00" y="233.90" font-size="5.4" text-anchor="end" font-weight="bold" fill="#222" stroke="#222" stroke-width="0.22">0</text>
<line x1="196.30" y1="215.37" x2="198.50" y2="215.37" stroke="#444" stroke-width="0.9"/>
<line x1="197.20" y1="207.05" x2="198.50" y2="207.05" stroke="#444" stroke-width="0.8"/>
<text x="195.00" y="217.27" font-size="5.4" text-anchor="end" font-weight="bold" fill="#222" stroke="#222" stroke-width="0.22">40</text>
<line x1="196.30" y1="198.73" x2="198.50" y2="198.73" stroke="#444" stroke-width="0.9"/>
<line x1="197.20" y1="190.42" x2="198.50" y2="190.42" stroke="#444" stroke-width="0.8"/>
<text x="195.00" y="200.63" font-size="5.4" text-anchor="end" font-weight="bold" fill="#222" stroke="#222" stroke-width="0.22">80</text>
<line x1="196.30" y1="182.10" x2="198.50" y2="182.10" stroke="#444" stroke-width="0.9"/>
<line x1="197.20" y1="173.78" x2="198.50" y2="173.78" stroke="#444" stroke-width="0.8"/>
<text x="195.00" y="184.00" font-size="5.4" text-anchor="end" font-weight="bold" fill="#222" stroke="#222" stroke-width="0.22">120</text>
<line x1="196.30" y1="165.47" x2="198.50" y2="165.47" stroke="#444" stroke-width="0.9"/>
<line x1="197.20" y1="157.15" x2="198.50" y2="157.15" stroke="#444" stroke-width="0.8"/>
<text x="195.00" y="167.37" font-size="5.4" text-anchor="end" font-weight="bold" fill="#222" stroke="#222" stroke-width="0.22">160</text>
<line x1="196.30" y1="148.83" x2="198.50" y2="148.83" stroke="#444" stroke-width="0.9"/>
<line x1="197.20" y1="140.52" x2="198.50" y2="140.52" stroke="#444" stroke-width="0.8"/>
<text x="195.00" y="150.73" font-size="5.4" text-anchor="end" font-weight="bold" fill="#222" stroke="#222" stroke-width="0.22">200</text>
<line x1="196.30" y1="132.20" x2="198.50" y2="132.20" stroke="#444" stroke-width="0.9"/>
<text x="195.00" y="134.10" font-size="5.4" text-anchor="end" font-weight="bold" fill="#222" stroke="#222" stroke-width="0.22">240</text>
<line x1="342.60" y1="232.00" x2="344.80" y2="232.00" stroke="#3c3cff" stroke-width="0.9"/>
<line x1="342.60" y1="223.68" x2="343.90" y2="223.68" stroke="#3c3cff" stroke-width="0.8"/>
<text x="346.00" y="233.90" font-size="5.4" text-anchor="start" font-weight="bold" fill="#2a2aff" stroke="#2a2aff" stroke-width="0.22">0</text>
<line x1="342.60" y1="215.37" x2="344.80" y2="215.37" stroke="#3c3cff" stroke-width="0.9"/>
<line x1="342.60" y1="207.05" x2="343.90" y2="207.05" stroke="#3c3cff" stroke-width="0.8"/>
<text x="346.00" y="217.27" font-size="5.4" text-anchor="start" font-weight="bold" fill="#2a2aff" stroke="#2a2aff" stroke-width="0.22">20</text>
<line x1="342.60" y1="198.73" x2="344.80" y2="198.73" stroke="#3c3cff" stroke-width="0.9"/>
<line x1="342.60" y1="190.42" x2="343.90" y2="190.42" stroke="#3c3cff" stroke-width="0.8"/>
<text x="346.00" y="200.63" font-size="5.4" text-anchor="start" font-weight="bold" fill="#2a2aff" stroke="#2a2aff" stroke-width="0.22">40</text>
<line x1="342.60" y1="182.10" x2="344.80" y2="182.10" stroke="#3c3cff" stroke-width="0.9"/>
<line x1="342.60" y1="173.78" x2="343.90" y2="173.78" stroke="#3c3cff" stroke-width="0.8"/>
<text x="346.00" y="184.00" font-size="5.4" text-anchor="start" font-weight="bold" fill="#2a2aff" stroke="#2a2aff" stroke-width="0.22">60</text>
<line x1="342.60" y1="165.47" x2="344.80" y2="165.47" stroke="#3c3cff" stroke-width="0.9"/>
<line x1="342.60" y1="157.15" x2="343.90" y2="157.15" stroke="#3c3cff" stroke-width="0.8"/>
<text x="346.00" y="167.37" font-size="5.4" text-anchor="start" font-weight="bold" fill="#2a2aff" stroke="#2a2aff" stroke-width="0.22">80</text>
<line x1="342.60" y1="148.83" x2="344.80" y2="148.83" stroke="#3c3cff" stroke-width="0.9"/>
<line x1="342.60" y1="140.52" x2="343.90" y2="140.52" stroke="#3c3cff" stroke-width="0.8"/>
<text x="346.00" y="150.73" font-size="5.4" text-anchor="start" font-weight="bold" fill="#2a2aff" stroke="#2a2aff" stroke-width="0.22">100</text>
<line x1="342.60" y1="132.20" x2="344.80" y2="132.20" stroke="#3c3cff" stroke-width="0.9"/>
<text x="346.00" y="134.10" font-size="5.4" text-anchor="start" font-weight="bold" fill="#2a2aff" stroke="#2a2aff" stroke-width="0.22">120</text>
<text x="203.10" y="142.80" font-size="9.4" text-anchor="start" font-weight="normal" fill="#1a1a1a" stroke="#1a1a1a" stroke-width="0.15">(E)</text>
<text x="258.80" y="176.60" font-size="5.8" text-anchor="start" fill="#333">5 Ag<tspan font-size="4" dy="-2">-1</tspan></text>
<text x="270.55" y="252.0" font-size="5.45" text-anchor="middle" font-weight="bold" fill="#111" stroke="#111" stroke-width="0.2">Cycle number</text>
<text transform="translate(182.50,187.00) rotate(-90)" font-size="5.6" text-anchor="middle" font-weight="bold" fill="#111" stroke="#111" stroke-width="0.2">Specific Capacity (mAhg<tspan font-size="4" dy="-1.8">-1</tspan><tspan dy="1.8">)</tspan></text>
<text transform="translate(359.00,184.6) rotate(-90)" font-size="5.5" text-anchor="middle" font-weight="bold" fill="#2a2aff" stroke="#2a2aff" stroke-width="0.2">Coulombic efficiency (%)</text>
<polyline points="379.20,169.80 380.14,169.86 381.04,169.93 381.94,169.99 382.88,170.05 383.88,170.12 385.00,170.20 387.04,170.34 389.37,170.51 391.88,170.68 394.45,170.86 396.96,171.04 399.30,171.20 401.19,171.33 403.04,171.47 404.84,171.60 406.60,171.72 408.32,171.82 410.00,171.90 411.41,171.95 412.79,171.99 414.14,172.02 415.46,172.03 416.75,172.02 418.00,172.00 419.05,171.94 420.07,171.85 421.06,171.74 422.03,171.65 423.01,171.59 424.00,171.60 424.98,171.68 425.95,171.83 426.91,172.01 427.89,172.21 428.91,172.41 430.00,172.60 431.52,172.83 433.14,173.06 434.84,173.30 436.57,173.54 438.30,173.78 440.00,174.00 441.67,174.22 443.33,174.44 445.00,174.65 446.66,174.85 448.33,175.04 450.00,175.20 451.67,175.33 453.33,175.44 455.00,175.54 456.67,175.62 458.33,175.71 460.00,175.80 461.68,175.91 463.37,176.02 465.07,176.13 466.75,176.24 468.40,176.33 470.00,176.40 471.39,176.46 472.75,176.53 474.08,176.59 475.39,176.62 476.70,176.60 478.00,176.50 479.29,176.29 480.59,175.97 481.89,175.60 483.15,175.25 484.36,174.96 485.50,174.80 486.29,174.77 487.02,174.80 487.72,174.87 488.42,174.96 489.17,175.08 490.00,175.20 491.38,175.43 492.89,175.73 494.50,176.07 496.16,176.42 497.84,176.74 499.50,177.00 501.21,177.20 502.94,177.36 504.68,177.48 506.44,177.59 508.21,177.69 510.00,177.80 511.90,177.91 513.82,178.02 515.76,178.12 517.71,178.21 519.66,178.30 521.60,178.40" fill="none" stroke="#7c7c7c" stroke-width="2.8" stroke-linejoin="round" />
<polyline points="379.20,169.80 380.14,169.86 381.04,169.93 381.94,169.99 382.88,170.05 383.88,170.12 385.00,170.20 387.04,170.34 389.37,170.51 391.88,170.68 394.45,170.86 396.96,171.04 399.30,171.20 401.19,171.33 403.04,171.47 404.84,171.60 406.60,171.72 408.32,171.82 410.00,171.90 411.41,171.95 412.79,171.99 414.14,172.02 415.46,172.03 416.75,172.02 418.00,172.00 419.05,171.94 420.07,171.85 421.06,171.74 422.03,171.65 423.01,171.59 424.00,171.60 424.98,171.68 425.95,171.83 426.91,172.01 427.89,172.21 428.91,172.41 430.00,172.60 431.52,172.83 433.14,173.06 434.84,173.30 436.57,173.54 438.30,173.78 440.00,174.00 441.67,174.22 443.33,174.44 445.00,174.65 446.66,174.85 448.33,175.04 450.00,175.20 451.67,175.33 453.33,175.44 455.00,175.54 456.67,175.62 458.33,175.71 460.00,175.80 461.68,175.91 463.37,176.02 465.07,176.13 466.75,176.24 468.40,176.33 470.00,176.40 471.39,176.46 472.75,176.53 474.08,176.59 475.39,176.62 476.70,176.60 478.00,176.50 479.29,176.29 480.59,175.97 481.89,175.60 483.15,175.25 484.36,174.96 485.50,174.80 486.29,174.77 487.02,174.80 487.72,174.87 488.42,174.96 489.17,175.08 490.00,175.20 491.38,175.43 492.89,175.73 494.50,176.07 496.16,176.42 497.84,176.74 499.50,177.00 501.21,177.20 502.94,177.36 504.68,177.48 506.44,177.59 508.21,177.69 510.00,177.80 511.90,177.91 513.82,178.02 515.76,178.12 517.71,178.21 519.66,178.30 521.60,178.40" fill="none" stroke="#b8b8b8" stroke-width="0.8" stroke-linejoin="round" />
<polyline points="379.30,148.93 380.90,149.37 382.50,149.24 384.10,149.48 385.70,148.91 387.30,147.99 388.90,149.25 390.50,149.44 392.10,149.33 393.70,148.72 395.30,148.98 396.90,148.08 398.50,149.20 400.10,148.73 401.70,148.21 403.30,147.81 404.90,149.24 406.50,149.48 408.10,147.86 409.70,149.14 411.30,148.44 412.90,147.97 414.50,148.23 416.10,149.08 417.70,149.27 419.30,147.78 420.90,148.81 422.50,147.78 424.10,148.99 425.70,148.30 427.30,149.29 428.90,149.47 430.50,148.61 432.10,149.50 433.70,148.26 435.30,147.84 436.90,148.78 438.50,147.76 440.10,148.06 441.70,148.43 443.30,148.80 444.90,147.98 446.50,147.78 448.10,149.26 449.70,148.26 451.30,149.43 452.90,149.31 454.50,148.38 456.10,148.53 457.70,148.64 459.30,148.86 460.90,148.77 462.50,148.71 464.10,148.82 465.70,149.39 467.30,148.61 468.90,148.48 470.50,149.00 472.10,148.13 473.70,148.24 475.30,149.46 476.90,148.64 478.50,148.69 480.10,147.72 481.70,148.45 483.30,148.74 484.90,147.74 486.50,148.81 488.10,148.84 489.70,147.81 491.30,148.83 492.90,148.54 494.50,148.92 496.10,148.33 497.70,148.97 499.30,149.03 500.90,147.74 502.50,147.81 504.10,149.82 505.70,150.33 507.30,149.05 508.90,149.42 510.50,149.67 512.10,148.28 513.70,148.36 515.30,148.26 516.90,148.36 518.50,148.77 520.10,148.24 521.70,148.38" fill="none" stroke="#4a4aff" stroke-width="2.5" stroke-linejoin="round" />
<polyline points="379.30,148.93 380.90,149.37 382.50,149.24 384.10,149.48 385.70,148.91 387.30,147.99 388.90,149.25 390.50,149.44 392.10,149.33 393.70,148.72 395.30,148.98 396.90,148.08 398.50,149.20 400.10,148.73 401.70,148.21 403.30,147.81 404.90,149.24 406.50,149.48 408.10,147.86 409.70,149.14 411.30,148.44 412.90,147.97 414.50,148.23 416.10,149.08 417.70,149.27 419.30,147.78 420.90,148.81 422.50,147.78 424.10,148.99 425.70,148.30 427.30,149.29 428.90,149.47 430.50,148.61 432.10,149.50 433.70,148.26 435.30,147.84 436.90,148.78 438.50,147.76 440.10,148.06 441.70,148.43 443.30,148.80 444.90,147.98 446.50,147.78 448.10,149.26 449.70,148.26 451.30,149.43 452.90,149.31 454.50,148.38 456.10,148.53 457.70,148.64 459.30,148.86 460.90,148.77 462.50,148.71 464.10,148.82 465.70,149.39 467.30,148.61 468.90,148.48 470.50,149.00 472.10,148.13 473.70,148.24 475.30,149.46 476.90,148.64 478.50,148.69 480.10,147.72 481.70,148.45 483.30,148.74 484.90,147.74 486.50,148.81 488.10,148.84 489.70,147.81 491.30,148.83 492.90,148.54 494.50,148.92 496.10,148.33 497.70,148.97 499.30,149.03 500.90,147.74 502.50,147.81 504.10,149.82 505.70,150.33 507.30,149.05 508.90,149.42 510.50,149.67 512.10,148.28 513.70,148.36 515.30,148.26 516.90,148.36 518.50,148.77 520.10,148.24 521.70,148.38" fill="none" stroke="#b0b0ff" stroke-width="0.7" stroke-linejoin="round" />
<line x1="378.60" y1="132.20" x2="523.00" y2="132.20" stroke="#7a7a7a" stroke-width="1"/>
<line x1="378.60" y1="232.00" x2="523.00" y2="232.00" stroke="#555" stroke-width="1"/>
<line x1="378.60" y1="132.20" x2="378.60" y2="232.00" stroke="#555" stroke-width="1"/>
<line x1="523.00" y1="132.20" x2="523.00" y2="232.00" stroke="#8c8cf4" stroke-width="1"/>
<line x1="378.60" y1="232.00" x2="378.60" y2="234.20" stroke="#444" stroke-width="0.9"/>
<line x1="393.04" y1="232.00" x2="393.04" y2="233.30" stroke="#444" stroke-width="0.8"/>
<text x="378.60" y="240.60" font-size="5.4" text-anchor="middle" font-weight="bold" fill="#111" stroke="#111" stroke-width="0.22">0</text>
<line x1="407.48" y1="232.00" x2="407.48" y2="234.20" stroke="#444" stroke-width="0.9"/>
<line x1="421.92" y1="232.00" x2="421.92" y2="233.30" stroke="#444" stroke-width="0.8"/>
<text x="407.48" y="240.60" font-size="5.4" text-anchor="middle" font-weight="bold" fill="#111" stroke="#111" stroke-width="0.22">200</text>
<line x1="436.36" y1="232.00" x2="436.36" y2="234.20" stroke="#444" stroke-width="0.9"/>
<line x1="450.80" y1="232.00" x2="450.80" y2="233.30" stroke="#444" stroke-width="0.8"/>
<text x="436.36" y="240.60" font-size="5.4" text-anchor="middle" font-weight="bold" fill="#111" stroke="#111" stroke-width="0.22">400</text>
<line x1="465.24" y1="232.00" x2="465.24" y2="234.20" stroke="#444" stroke-width="0.9"/>
<line x1="479.68" y1="232.00" x2="479.68" y2="233.30" stroke="#444" stroke-width="0.8"/>
<text x="465.24" y="240.60" font-size="5.4" text-anchor="middle" font-weight="bold" fill="#111" stroke="#111" stroke-width="0.22">600</text>
<line x1="494.12" y1="232.00" x2="494.12" y2="234.20" stroke="#444" stroke-width="0.9"/>
<line x1="508.56" y1="232.00" x2="508.56" y2="233.30" stroke="#444" stroke-width="0.8"/>
<text x="494.12" y="240.60" font-size="5.4" text-anchor="middle" font-weight="bold" fill="#111" stroke="#111" stroke-width="0.22">800</text>
<line x1="523.00" y1="232.00" x2="523.00" y2="234.20" stroke="#444" stroke-width="0.9"/>
<text x="523.00" y="240.60" font-size="5.4" text-anchor="middle" font-weight="bold" fill="#111" stroke="#111" stroke-width="0.22">1000</text>
<line x1="376.40" y1="232.00" x2="378.60" y2="232.00" stroke="#444" stroke-width="0.9"/>
<line x1="377.30" y1="223.68" x2="378.60" y2="223.68" stroke="#444" stroke-width="0.8"/>
<text x="375.10" y="233.90" font-size="5.4" text-anchor="end" font-weight="bold" fill="#222" stroke="#222" stroke-width="0.22">0</text>
<line x1="376.40" y1="215.37" x2="378.60" y2="215.37" stroke="#444" stroke-width="0.9"/>
<line x1="377.30" y1="207.05" x2="378.60" y2="207.05" stroke="#444" stroke-width="0.8"/>
<text x="375.10" y="217.27" font-size="5.4" text-anchor="end" font-weight="bold" fill="#222" stroke="#222" stroke-width="0.22">40</text>
<line x1="376.40" y1="198.73" x2="378.60" y2="198.73" stroke="#444" stroke-width="0.9"/>
<line x1="377.30" y1="190.42" x2="378.60" y2="190.42" stroke="#444" stroke-width="0.8"/>
<text x="375.10" y="200.63" font-size="5.4" text-anchor="end" font-weight="bold" fill="#222" stroke="#222" stroke-width="0.22">80</text>
<line x1="376.40" y1="182.10" x2="378.60" y2="182.10" stroke="#444" stroke-width="0.9"/>
<line x1="377.30" y1="173.78" x2="378.60" y2="173.78" stroke="#444" stroke-width="0.8"/>
<text x="375.10" y="184.00" font-size="5.4" text-anchor="end" font-weight="bold" fill="#222" stroke="#222" stroke-width="0.22">120</text>
<line x1="376.40" y1="165.47" x2="378.60" y2="165.47" stroke="#444" stroke-width="0.9"/>
<line x1="377.30" y1="157.15" x2="378.60" y2="157.15" stroke="#444" stroke-width="0.8"/>
<text x="375.10" y="167.37" font-size="5.4" text-anchor="end" font-weight="bold" fill="#222" stroke="#222" stroke-width="0.22">160</text>
<line x1="376.40" y1="148.83" x2="378.60" y2="148.83" stroke="#444" stroke-width="0.9"/>
<line x1="377.30" y1="140.52" x2="378.60" y2="140.52" stroke="#444" stroke-width="0.8"/>
<text x="375.10" y="150.73" font-size="5.4" text-anchor="end" font-weight="bold" fill="#222" stroke="#222" stroke-width="0.22">200</text>
<line x1="376.40" y1="132.20" x2="378.60" y2="132.20" stroke="#444" stroke-width="0.9"/>
<text x="375.10" y="134.10" font-size="5.4" text-anchor="end" font-weight="bold" fill="#222" stroke="#222" stroke-width="0.22">240</text>
<line x1="523.00" y1="232.00" x2="525.20" y2="232.00" stroke="#8c8cf4" stroke-width="0.9"/>
<line x1="523.00" y1="223.68" x2="524.30" y2="223.68" stroke="#8c8cf4" stroke-width="0.8"/>
<text x="526.40" y="233.90" font-size="5.4" text-anchor="start" font-weight="bold" fill="#3a3af2" stroke="#3a3af2" stroke-width="0.22">0</text>
<line x1="523.00" y1="215.37" x2="525.20" y2="215.37" stroke="#8c8cf4" stroke-width="0.9"/>
<line x1="523.00" y1="207.05" x2="524.30" y2="207.05" stroke="#8c8cf4" stroke-width="0.8"/>
<text x="526.40" y="217.27" font-size="5.4" text-anchor="start" font-weight="bold" fill="#3a3af2" stroke="#3a3af2" stroke-width="0.22">20</text>
<line x1="523.00" y1="198.73" x2="525.20" y2="198.73" stroke="#8c8cf4" stroke-width="0.9"/>
<line x1="523.00" y1="190.42" x2="524.30" y2="190.42" stroke="#8c8cf4" stroke-width="0.8"/>
<text x="526.40" y="200.63" font-size="5.4" text-anchor="start" font-weight="bold" fill="#3a3af2" stroke="#3a3af2" stroke-width="0.22">40</text>
<line x1="523.00" y1="182.10" x2="525.20" y2="182.10" stroke="#8c8cf4" stroke-width="0.9"/>
<line x1="523.00" y1="173.78" x2="524.30" y2="173.78" stroke="#8c8cf4" stroke-width="0.8"/>
<text x="526.40" y="184.00" font-size="5.4" text-anchor="start" font-weight="bold" fill="#3a3af2" stroke="#3a3af2" stroke-width="0.22">60</text>
<line x1="523.00" y1="165.47" x2="525.20" y2="165.47" stroke="#8c8cf4" stroke-width="0.9"/>
<line x1="523.00" y1="157.15" x2="524.30" y2="157.15" stroke="#8c8cf4" stroke-width="0.8"/>
<text x="526.40" y="167.37" font-size="5.4" text-anchor="start" font-weight="bold" fill="#3a3af2" stroke="#3a3af2" stroke-width="0.22">80</text>
<line x1="523.00" y1="148.83" x2="525.20" y2="148.83" stroke="#8c8cf4" stroke-width="0.9"/>
<line x1="523.00" y1="140.52" x2="524.30" y2="140.52" stroke="#8c8cf4" stroke-width="0.8"/>
<text x="526.40" y="150.73" font-size="5.4" text-anchor="start" font-weight="bold" fill="#3a3af2" stroke="#3a3af2" stroke-width="0.22">100</text>
<line x1="523.00" y1="132.20" x2="525.20" y2="132.20" stroke="#8c8cf4" stroke-width="0.9"/>
<text x="526.40" y="134.10" font-size="5.4" text-anchor="start" font-weight="bold" fill="#3a3af2" stroke="#3a3af2" stroke-width="0.22">120</text>
<text x="383.20" y="142.80" font-size="9.4" text-anchor="start" font-weight="normal" fill="#1a1a1a" stroke="#1a1a1a" stroke-width="0.15">(F)</text>
<text x="444.60" y="170.80" font-size="5.8" text-anchor="start" fill="#333">5 Ag<tspan font-size="4" dy="-2">-1</tspan></text>
<text x="450.80" y="252.0" font-size="5.45" text-anchor="middle" font-weight="bold" fill="#111" stroke="#111" stroke-width="0.2">Cycle number</text>
<text transform="translate(366.00,187.00) rotate(-90)" font-size="5.6" text-anchor="middle" font-weight="bold" fill="#111" stroke="#111" stroke-width="0.2">Specific Capacity (mAhg<tspan font-size="4" dy="-1.8">-1</tspan><tspan dy="1.8">)</tspan></text>
<text transform="translate(541.00,184.6) rotate(-90)" font-size="5.5" text-anchor="middle" font-weight="bold" fill="#3a3af2" stroke="#3a3af2" stroke-width="0.2">Coulombic efficiency (%)</text>
</svg>
</body></html>
